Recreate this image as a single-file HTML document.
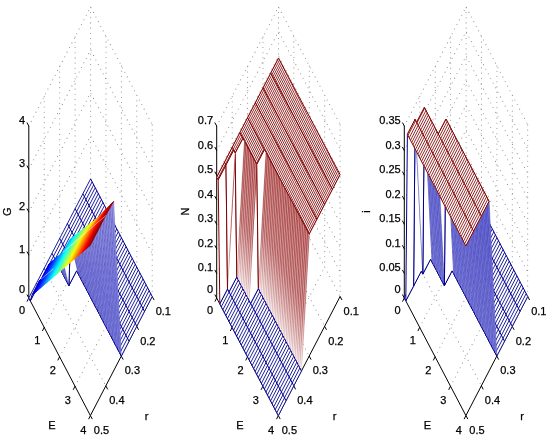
<!DOCTYPE html><html><head><meta charset="utf-8"><style>html,body{margin:0;padding:0;background:#fff;overflow:hidden}svg{display:block}text{font-family:"Liberation Sans",Arial,Helvetica,sans-serif;font-size:11px;fill:#000;stroke:#000;stroke-width:0.25px}</style></head><body>
<svg width="550" height="439" viewBox="0 0 550 439">
<defs>
<linearGradient id="g0" x1="0" y1="0" x2="0" y2="1"><stop offset="0" stop-color="#00008f" stop-opacity="0.3"/><stop offset="1" stop-color="#00008f" stop-opacity="0.25"/></linearGradient>
<linearGradient id="g1" x1="0" y1="0" x2="0" y2="1"><stop offset="0" stop-color="#800000" stop-opacity="0.5"/><stop offset="0.55" stop-color="#800000" stop-opacity="0.42"/><stop offset="1" stop-color="#800000" stop-opacity="0.1"/></linearGradient>
<linearGradient id="g2" x1="0" y1="0" x2="0" y2="1"><stop offset="0" stop-color="#00008f" stop-opacity="0.35"/><stop offset="1" stop-color="#00008f" stop-opacity="0.3"/></linearGradient>
<linearGradient id="f0" x1="0" y1="0" x2="0" y2="1"><stop offset="0" stop-color="#1a1ad0" stop-opacity="0.38"/><stop offset="0.5" stop-color="#1a1ad0" stop-opacity="0.5"/><stop offset="1" stop-color="#1a1ad0" stop-opacity="0.55"/></linearGradient>
<linearGradient id="f1" x1="0" y1="0" x2="0" y2="1"><stop offset="0" stop-color="#a00000" stop-opacity="0.38"/><stop offset="0.55" stop-color="#a00000" stop-opacity="0.3"/><stop offset="1" stop-color="#a00000" stop-opacity="0.03"/></linearGradient>
<linearGradient id="f2" x1="0" y1="0" x2="0" y2="1"><stop offset="0" stop-color="#1a1ad0" stop-opacity="0.6"/><stop offset="1" stop-color="#1a1ad0" stop-opacity="0.5"/></linearGradient>
</defs>
<rect width="550" height="439" fill="#fff"/>
<path d="M28.8 298L90.6 178.9L152.2 296.5M28.8 255L90.6 135.9L152.2 253.5M28.8 212L90.6 92.9L152.2 210.5M28.8 169L90.6 49.9L152.2 167.5M28.8 126L90.6 6.9L152.2 124.5M90.6 178.9L90.6 6.9M75.1 208.7L75.1 36.7M59.7 238.4L59.7 66.4M44.2 268.2L44.2 96.2M106 208.3L106 36.3M121.4 237.7L121.4 65.7M136.8 267.1L136.8 95.1M152.2 296.5L152.2 124.5M44.2 327.4L106 208.3M59.6 356.8L121.4 237.7M75 386.2L136.8 267.1M75.1 208.7L136.8 326.3M59.7 238.4L121.3 356.1M44.2 268.2L105.8 385.8" fill="none" stroke="#8e8e8e" stroke-width="1.1" stroke-linecap="round" stroke-dasharray="0 5.2"/>
<path d="M28.8 126L28.8 298M28.8 298L90.4 415.6L152.2 296.5M28.8 298L26.9 294.5M28.8 255L26.9 251.5M28.8 212L26.9 208.5M28.8 169L26.9 165.5M28.8 126L26.9 122.5M28.8 298L27 301.6M44.2 327.4L42.4 331M59.6 356.8L57.8 360.4M75 386.2L73.2 389.8M90.4 415.6L88.6 419.2M152.2 296.5L154.1 300M136.8 326.3L138.6 329.8M121.3 356.1L123.2 359.6M105.8 385.8L107.7 389.4M90.4 415.6L92.3 419.1" fill="none" stroke="#000" stroke-width="1"/>
<path d="M90.6 178.9L152.2 296.5L144.5 311.4L82.9 193.8ZM82.9 193.8L144.5 311.4L136.8 326.3L75.1 208.7ZM75.1 208.7L136.8 326.3L129 341.2L67.4 223.6ZM67.4 223.6L129 341.2L121.3 356.1L59.7 238.4ZM59.7 238.4L76.6 270.8L68.9 285.7L52 253.3ZM52 253.3L55.1 259.2L47.3 274.1L44.2 268.2ZM44.2 268.2L45.8 271.2L38.1 286.1L36.5 283.1ZM36.5 283.1L38.1 286.1L30.3 300.9L28.8 298Z" fill="#fff" stroke="#fff" stroke-width="0.4"/>
<path d="M90.6 178.9L28.8 298M92.1 181.8L30.3 300.9M93.7 184.8L47.3 274.1M95.2 187.7L56.6 262.2M96.8 190.7L58.1 265.1M98.3 193.6L59.7 268M99.8 196.5L61.2 271M101.4 199.5L62.8 273.9M102.9 202.4L64.3 276.9M104.5 205.4L65.8 279.8M106 208.3L67.4 282.7M107.5 211.2L68.9 285.7M109.1 214.2L78.2 273.7M110.6 217.1L79.7 276.7M112.2 220.1L81.3 279.6M113.7 223L82.8 282.6M115.2 225.9L84.3 285.5M116.8 228.9L85.9 288.4M118.3 231.8L87.4 291.4M119.9 234.8L89 294.3M121.4 237.7L90.5 297.2M122.9 240.6L92 300.2M124.5 243.6L93.6 303.1M126 246.5L95.1 306.1M127.6 249.5L96.7 309M129.1 252.4L98.2 311.9M130.6 255.3L99.7 314.9M132.2 258.3L101.3 317.8M133.7 261.2L102.8 320.8M135.3 264.2L104.4 323.7M136.8 267.1L105.9 326.7M138.3 270L107.4 329.6M139.9 273L109 332.5M141.4 275.9L110.5 335.5M143 278.9L112.1 338.4M144.5 281.8L113.6 341.4M146 284.7L115.1 344.3M147.6 287.7L116.7 347.2M149.1 290.6L118.2 350.2M150.7 293.6L119.8 353.1M152.2 296.5L121.3 356.1" fill="none" stroke="#00008f" stroke-width="0.88"/>
<path d="M90.6 178.9L152.2 296.5M82.9 193.8L144.5 311.4M75.1 208.7L136.8 326.3M67.4 223.6L129 341.2M59.7 238.4L121.3 356.1M52 253.3L68.9 285.7M44.2 268.2L47.3 274.1M36.5 283.1L38.1 286.1M28.8 298L30.3 300.9" fill="none" stroke="#00008f" stroke-width="1.0"/>
<path d="M55.1 259.2L56.6 262.2L48.9 264.3L47.3 274.1Z" fill="#fff"/>
<path d="M55.1 259.2L56.6 262.2" stroke="#00008f" stroke-width="1.0" fill="none"/>
<path d="M47.3 274.1L48.9 264.3" stroke="#00008f" stroke-width="1.0" fill="none"/>
<path d="M55.1 259.2L47.3 274.1" stroke="#00008f" stroke-width="1.0" fill="none"/>
<path d="M56.6 262.2L48.9 264.3" stroke="url(#g0)" stroke-width="1.0" fill="none"/>
<path d="M56.6 262.2L58.1 265.1L50.4 263L48.9 264.3Z" fill="#fff"/>
<path d="M56.6 262.2L58.1 265.1L50.4 263L48.9 264.3Z" fill="url(#f0)"/>
<path d="M56.6 262.2L58.1 265.1" stroke="#00008f" stroke-width="1.0" fill="none"/>
<path d="M48.9 264.3L50.4 263" stroke="#0000cf" stroke-width="1.0" fill="none"/>
<path d="M56.6 262.2L48.9 264.3" stroke="url(#g0)" stroke-width="1.0" fill="none"/>
<path d="M50.4 263L58.1 265.1" stroke="url(#g0)" stroke-width="1.0" fill="none"/>
<path d="M45.8 271.2L47.3 274.1L39.6 280.5L38.1 286.1Z" fill="#fff"/>
<path d="M45.8 271.2L47.3 274.1" stroke="#00008f" stroke-width="1.0" fill="none"/>
<path d="M38.1 286.1L39.6 280.5" stroke="#00008f" stroke-width="1.0" fill="none"/>
<path d="M45.8 271.2L38.1 286.1" stroke="#00008f" stroke-width="1.0" fill="none"/>
<path d="M47.3 274.1L39.6 280.5" stroke="url(#g0)" stroke-width="1.0" fill="none"/>
<path d="M58.1 265.1L59.7 268L51.9 261.6L50.4 263Z" fill="#fff"/>
<path d="M58.1 265.1L59.7 268L51.9 261.6L50.4 263Z" fill="url(#f0)"/>
<path d="M58.1 265.1L59.7 268" stroke="#00008f" stroke-width="1.0" fill="none"/>
<path d="M50.4 263L51.9 261.6" stroke="#0000ef" stroke-width="1.0" fill="none"/>
<path d="M50.4 263L58.1 265.1" stroke="url(#g0)" stroke-width="1.0" fill="none"/>
<path d="M51.9 261.6L59.7 268" stroke="url(#g0)" stroke-width="1.0" fill="none"/>
<path d="M59.7 268L61.2 271L53.5 260.3L51.9 261.6Z" fill="#fff"/>
<path d="M59.7 268L61.2 271L53.5 260.3L51.9 261.6Z" fill="url(#f0)"/>
<path d="M59.7 268L61.2 271" stroke="#00008f" stroke-width="1.0" fill="none"/>
<path d="M51.9 261.6L53.5 260.3" stroke="#0010ff" stroke-width="1.0" fill="none"/>
<path d="M51.9 261.6L59.7 268" stroke="url(#g0)" stroke-width="1.0" fill="none"/>
<path d="M53.5 260.3L61.2 271" stroke="url(#g0)" stroke-width="1.0" fill="none"/>
<path d="M47.3 274.1L48.9 264.3L41.1 279.2L39.6 280.5Z" fill="#fff"/>
<path d="M47.3 274.1L48.9 264.3" stroke="#00008f" stroke-width="1.0" fill="none"/>
<path d="M39.6 280.5L41.1 279.2" stroke="#0000bf" stroke-width="1.0" fill="none"/>
<path d="M47.3 274.1L39.6 280.5" stroke="url(#g0)" stroke-width="1.0" fill="none"/>
<path d="M48.9 264.3L41.1 279.2" stroke="#0000cf" stroke-width="1.0" fill="none"/>
<path d="M76.6 270.8L78.2 273.7L70.5 239.1L68.9 285.7Z" fill="#fff"/>
<path d="M76.6 270.8L78.2 273.7" stroke="#00008f" stroke-width="1.0" fill="none"/>
<path d="M68.9 285.7L70.5 239.1" stroke="#00008f" stroke-width="1.0" fill="none"/>
<path d="M76.6 270.8L68.9 285.7" stroke="#00008f" stroke-width="1.0" fill="none"/>
<path d="M70.5 239.1L78.2 273.7" stroke="url(#g0)" stroke-width="1.0" fill="none"/>
<path d="M61.2 271L62.8 273.9L55 259L53.5 260.3Z" fill="#fff"/>
<path d="M61.2 271L62.8 273.9L55 259L53.5 260.3Z" fill="url(#f0)"/>
<path d="M61.2 271L62.8 273.9" stroke="#00008f" stroke-width="1.0" fill="none"/>
<path d="M53.5 260.3L55 259" stroke="#0020ff" stroke-width="1.0" fill="none"/>
<path d="M53.5 260.3L61.2 271" stroke="url(#g0)" stroke-width="1.0" fill="none"/>
<path d="M55 259L62.8 273.9" stroke="url(#g0)" stroke-width="1.0" fill="none"/>
<path d="M62.8 273.9L64.3 276.9L56.6 257.7L55 259Z" fill="#fff"/>
<path d="M62.8 273.9L64.3 276.9L56.6 257.7L55 259Z" fill="url(#f0)"/>
<path d="M62.8 273.9L64.3 276.9" stroke="#00008f" stroke-width="1.0" fill="none"/>
<path d="M55 259L56.6 257.7" stroke="#0040ff" stroke-width="1.0" fill="none"/>
<path d="M55 259L62.8 273.9" stroke="url(#g0)" stroke-width="1.0" fill="none"/>
<path d="M56.6 257.7L64.3 276.9" stroke="url(#g0)" stroke-width="1.0" fill="none"/>
<path d="M38.1 286.1L39.6 280.5L31.9 295.4L30.3 300.9Z" fill="#fff"/>
<path d="M38.1 286.1L39.6 280.5" stroke="#00008f" stroke-width="1.0" fill="none"/>
<path d="M30.3 300.9L31.9 295.4" stroke="#00008f" stroke-width="1.0" fill="none"/>
<path d="M38.1 286.1L30.3 300.9" stroke="#00008f" stroke-width="1.0" fill="none"/>
<path d="M39.6 280.5L31.9 295.4" stroke="#0000bf" stroke-width="1.0" fill="none"/>
<path d="M48.9 264.3L50.4 263L42.7 277.8L41.1 279.2Z" fill="#0000cf" stroke="#0000cf" stroke-width="0.6"/>
<path d="M64.3 276.9L65.8 279.8L58.1 256.4L56.6 257.7Z" fill="#fff"/>
<path d="M64.3 276.9L65.8 279.8L58.1 256.4L56.6 257.7Z" fill="url(#f0)"/>
<path d="M64.3 276.9L65.8 279.8" stroke="#00008f" stroke-width="1.0" fill="none"/>
<path d="M56.6 257.7L58.1 256.4" stroke="#0050ff" stroke-width="1.0" fill="none"/>
<path d="M56.6 257.7L64.3 276.9" stroke="url(#g0)" stroke-width="1.0" fill="none"/>
<path d="M58.1 256.4L65.8 279.8" stroke="url(#g0)" stroke-width="1.0" fill="none"/>
<path d="M50.4 263L51.9 261.6L44.2 276.5L42.7 277.8Z" fill="#0000ef" stroke="#0000ef" stroke-width="0.6"/>
<path d="M78.2 273.7L79.7 276.7L72 237.9L70.5 239.1Z" fill="#fff"/>
<path d="M78.2 273.7L79.7 276.7L72 237.9L70.5 239.1Z" fill="url(#f0)"/>
<path d="M78.2 273.7L79.7 276.7" stroke="#00008f" stroke-width="1.0" fill="none"/>
<path d="M70.5 239.1L72 237.9" stroke="#00afff" stroke-width="1.0" fill="none"/>
<path d="M70.5 239.1L78.2 273.7" stroke="url(#g0)" stroke-width="1.0" fill="none"/>
<path d="M72 237.9L79.7 276.7" stroke="url(#g0)" stroke-width="1.0" fill="none"/>
<path d="M39.6 280.5L41.1 279.2L33.4 294L31.9 295.4Z" fill="#0000bf" stroke="#0000bf" stroke-width="0.6"/>
<path d="M65.8 279.8L67.4 282.7L59.6 255.1L58.1 256.4Z" fill="#fff"/>
<path d="M65.8 279.8L67.4 282.7L59.6 255.1L58.1 256.4Z" fill="url(#f0)"/>
<path d="M65.8 279.8L67.4 282.7" stroke="#00008f" stroke-width="1.0" fill="none"/>
<path d="M58.1 256.4L59.6 255.1" stroke="#0070ff" stroke-width="1.0" fill="none"/>
<path d="M58.1 256.4L65.8 279.8" stroke="url(#g0)" stroke-width="1.0" fill="none"/>
<path d="M59.6 255.1L67.4 282.7" stroke="url(#g0)" stroke-width="1.0" fill="none"/>
<path d="M79.7 276.7L81.3 279.6L73.5 236.7L72 237.9Z" fill="#fff"/>
<path d="M79.7 276.7L81.3 279.6L73.5 236.7L72 237.9Z" fill="url(#f0)"/>
<path d="M79.7 276.7L81.3 279.6" stroke="#00008f" stroke-width="1.0" fill="none"/>
<path d="M72 237.9L73.5 236.7" stroke="#00cfff" stroke-width="1.0" fill="none"/>
<path d="M72 237.9L79.7 276.7" stroke="url(#g0)" stroke-width="1.0" fill="none"/>
<path d="M73.5 236.7L81.3 279.6" stroke="url(#g0)" stroke-width="1.0" fill="none"/>
<path d="M67.4 282.7L68.9 285.7L61.2 253.7L59.6 255.1Z" fill="#fff"/>
<path d="M67.4 282.7L68.9 285.7L61.2 253.7L59.6 255.1Z" fill="url(#f0)"/>
<path d="M67.4 282.7L68.9 285.7" stroke="#00008f" stroke-width="1.0" fill="none"/>
<path d="M59.6 255.1L61.2 253.7" stroke="#008fff" stroke-width="1.0" fill="none"/>
<path d="M59.6 255.1L67.4 282.7" stroke="url(#g0)" stroke-width="1.0" fill="none"/>
<path d="M61.2 253.7L68.9 285.7" stroke="url(#g0)" stroke-width="1.0" fill="none"/>
<path d="M51.9 261.6L53.5 260.3L45.8 275.2L44.2 276.5Z" fill="#0010ff" stroke="#0010ff" stroke-width="0.6"/>
<path d="M41.1 279.2L42.7 277.8L35 292.7L33.4 294Z" fill="#0000cf" stroke="#0000cf" stroke-width="0.6"/>
<path d="M81.3 279.6L82.8 282.6L75.1 235.5L73.5 236.7Z" fill="#fff"/>
<path d="M81.3 279.6L82.8 282.6L75.1 235.5L73.5 236.7Z" fill="url(#f0)"/>
<path d="M81.3 279.6L82.8 282.6" stroke="#00008f" stroke-width="1.0" fill="none"/>
<path d="M73.5 236.7L75.1 235.5" stroke="#00dfff" stroke-width="1.0" fill="none"/>
<path d="M73.5 236.7L81.3 279.6" stroke="url(#g0)" stroke-width="1.0" fill="none"/>
<path d="M75.1 235.5L82.8 282.6" stroke="url(#g0)" stroke-width="1.0" fill="none"/>
<path d="M53.5 260.3L55 259L47.3 273.9L45.8 275.2Z" fill="#0020ff" stroke="#0020ff" stroke-width="0.6"/>
<path d="M42.7 277.8L44.2 276.5L36.5 291.4L35 292.7Z" fill="#0000ef" stroke="#0000ef" stroke-width="0.6"/>
<path d="M82.8 282.6L84.3 285.5L76.6 234.3L75.1 235.5Z" fill="#fff"/>
<path d="M82.8 282.6L84.3 285.5L76.6 234.3L75.1 235.5Z" fill="url(#f0)"/>
<path d="M82.8 282.6L84.3 285.5" stroke="#00008f" stroke-width="1.0" fill="none"/>
<path d="M75.1 235.5L76.6 234.3" stroke="#00ffff" stroke-width="1.0" fill="none"/>
<path d="M75.1 235.5L82.8 282.6" stroke="url(#g0)" stroke-width="1.0" fill="none"/>
<path d="M76.6 234.3L84.3 285.5" stroke="url(#g0)" stroke-width="1.0" fill="none"/>
<path d="M84.3 285.5L85.9 288.4L78.2 233.1L76.6 234.3Z" fill="#fff"/>
<path d="M84.3 285.5L85.9 288.4L78.2 233.1L76.6 234.3Z" fill="url(#f0)"/>
<path d="M84.3 285.5L85.9 288.4" stroke="#00008f" stroke-width="1.0" fill="none"/>
<path d="M76.6 234.3L78.2 233.1" stroke="#10ffef" stroke-width="1.0" fill="none"/>
<path d="M76.6 234.3L84.3 285.5" stroke="url(#g0)" stroke-width="1.0" fill="none"/>
<path d="M78.2 233.1L85.9 288.4" stroke="url(#g0)" stroke-width="1.0" fill="none"/>
<path d="M55 259L56.6 257.7L48.8 272.6L47.3 273.9Z" fill="#0040ff" stroke="#0040ff" stroke-width="0.6"/>
<path d="M44.2 276.5L45.8 275.2L38 290.1L36.5 291.4Z" fill="#0010ff" stroke="#0010ff" stroke-width="0.6"/>
<path d="M68.9 285.7L70.5 239.1L62.7 252.4L61.2 253.7Z" fill="#fff"/>
<path d="M68.9 285.7L70.5 239.1" stroke="#00008f" stroke-width="1.0" fill="none"/>
<path d="M61.2 253.7L62.7 252.4" stroke="#009fff" stroke-width="1.0" fill="none"/>
<path d="M61.2 253.7L68.9 285.7" stroke="url(#g0)" stroke-width="1.0" fill="none"/>
<path d="M70.5 239.1L62.7 252.4" stroke="#00afff" stroke-width="1.0" fill="none"/>
<path d="M85.9 288.4L87.4 291.4L79.7 232L78.2 233.1Z" fill="#fff"/>
<path d="M85.9 288.4L87.4 291.4L79.7 232L78.2 233.1Z" fill="url(#f0)"/>
<path d="M85.9 288.4L87.4 291.4" stroke="#00008f" stroke-width="1.0" fill="none"/>
<path d="M78.2 233.1L79.7 232" stroke="#30ffcf" stroke-width="1.0" fill="none"/>
<path d="M78.2 233.1L85.9 288.4" stroke="url(#g0)" stroke-width="1.0" fill="none"/>
<path d="M79.7 232L87.4 291.4" stroke="url(#g0)" stroke-width="1.0" fill="none"/>
<path d="M56.6 257.7L58.1 256.4L50.4 271.3L48.8 272.6Z" fill="#0050ff" stroke="#0050ff" stroke-width="0.6"/>
<path d="M45.8 275.2L47.3 273.9L39.6 288.8L38 290.1Z" fill="#0020ff" stroke="#0020ff" stroke-width="0.6"/>
<path d="M87.4 291.4L89 294.3L81.2 230.8L79.7 232Z" fill="#fff"/>
<path d="M87.4 291.4L89 294.3L81.2 230.8L79.7 232Z" fill="url(#f0)"/>
<path d="M87.4 291.4L89 294.3" stroke="#00008f" stroke-width="1.0" fill="none"/>
<path d="M79.7 232L81.2 230.8" stroke="#40ffbf" stroke-width="1.0" fill="none"/>
<path d="M79.7 232L87.4 291.4" stroke="url(#g0)" stroke-width="1.0" fill="none"/>
<path d="M81.2 230.8L89 294.3" stroke="url(#g0)" stroke-width="1.0" fill="none"/>
<path d="M89 294.3L90.5 297.2L82.8 229.6L81.2 230.8Z" fill="#fff"/>
<path d="M89 294.3L90.5 297.2L82.8 229.6L81.2 230.8Z" fill="url(#f0)"/>
<path d="M89 294.3L90.5 297.2" stroke="#00008f" stroke-width="1.0" fill="none"/>
<path d="M81.2 230.8L82.8 229.6" stroke="#60ff9f" stroke-width="1.0" fill="none"/>
<path d="M81.2 230.8L89 294.3" stroke="url(#g0)" stroke-width="1.0" fill="none"/>
<path d="M82.8 229.6L90.5 297.2" stroke="url(#g0)" stroke-width="1.0" fill="none"/>
<path d="M58.1 256.4L59.6 255.1L51.9 269.9L50.4 271.3Z" fill="#0070ff" stroke="#0070ff" stroke-width="0.6"/>
<path d="M47.3 273.9L48.8 272.6L41.1 287.5L39.6 288.8Z" fill="#0040ff" stroke="#0040ff" stroke-width="0.6"/>
<path d="M90.5 297.2L92 300.2L84.3 228.4L82.8 229.6Z" fill="#fff"/>
<path d="M90.5 297.2L92 300.2L84.3 228.4L82.8 229.6Z" fill="url(#f0)"/>
<path d="M90.5 297.2L92 300.2" stroke="#00008f" stroke-width="1.0" fill="none"/>
<path d="M82.8 229.6L84.3 228.4" stroke="#80ff80" stroke-width="1.0" fill="none"/>
<path d="M82.8 229.6L90.5 297.2" stroke="url(#g0)" stroke-width="1.0" fill="none"/>
<path d="M84.3 228.4L92 300.2" stroke="url(#g0)" stroke-width="1.0" fill="none"/>
<path d="M70.5 239.1L72 237.9L64.3 251.1L62.7 252.4Z" fill="#00afff" stroke="#00afff" stroke-width="0.6"/>
<path d="M59.6 255.1L61.2 253.7L53.5 268.6L51.9 269.9Z" fill="#008fff" stroke="#008fff" stroke-width="0.6"/>
<path d="M48.8 272.6L50.4 271.3L42.7 286.1L41.1 287.5Z" fill="#0050ff" stroke="#0050ff" stroke-width="0.6"/>
<path d="M92 300.2L93.6 303.1L85.9 227.2L84.3 228.4Z" fill="#fff"/>
<path d="M92 300.2L93.6 303.1L85.9 227.2L84.3 228.4Z" fill="url(#f0)"/>
<path d="M92 300.2L93.6 303.1" stroke="#00008f" stroke-width="1.0" fill="none"/>
<path d="M84.3 228.4L85.9 227.2" stroke="#8fff70" stroke-width="1.0" fill="none"/>
<path d="M84.3 228.4L92 300.2" stroke="url(#g0)" stroke-width="1.0" fill="none"/>
<path d="M85.9 227.2L93.6 303.1" stroke="url(#g0)" stroke-width="1.0" fill="none"/>
<path d="M72 237.9L73.5 236.7L65.8 249.8L64.3 251.1Z" fill="#00cfff" stroke="#00cfff" stroke-width="0.6"/>
<path d="M61.2 253.7L62.7 252.4L55 267.3L53.5 268.6Z" fill="#009fff" stroke="#009fff" stroke-width="0.6"/>
<path d="M93.6 303.1L95.1 306.1L87.4 226L85.9 227.2Z" fill="#fff"/>
<path d="M93.6 303.1L95.1 306.1L87.4 226L85.9 227.2Z" fill="url(#f0)"/>
<path d="M93.6 303.1L95.1 306.1" stroke="#00008f" stroke-width="1.0" fill="none"/>
<path d="M85.9 227.2L87.4 226" stroke="#afff50" stroke-width="1.0" fill="none"/>
<path d="M85.9 227.2L93.6 303.1" stroke="url(#g0)" stroke-width="1.0" fill="none"/>
<path d="M87.4 226L95.1 306.1" stroke="url(#g0)" stroke-width="1.0" fill="none"/>
<path d="M50.4 271.3L51.9 269.9L44.2 284.8L42.7 286.1Z" fill="#0070ff" stroke="#0070ff" stroke-width="0.6"/>
<path d="M73.5 236.7L75.1 235.5L67.3 248.5L65.8 249.8Z" fill="#00dfff" stroke="#00dfff" stroke-width="0.6"/>
<path d="M95.1 306.1L96.7 309L88.9 224.8L87.4 226Z" fill="#fff"/>
<path d="M95.1 306.1L96.7 309L88.9 224.8L87.4 226Z" fill="url(#f0)"/>
<path d="M95.1 306.1L96.7 309" stroke="#00008f" stroke-width="1.0" fill="none"/>
<path d="M87.4 226L88.9 224.8" stroke="#bfff40" stroke-width="1.0" fill="none"/>
<path d="M87.4 226L95.1 306.1" stroke="url(#g0)" stroke-width="1.0" fill="none"/>
<path d="M88.9 224.8L96.7 309" stroke="url(#g0)" stroke-width="1.0" fill="none"/>
<path d="M62.7 252.4L64.3 251.1L56.5 266L55 267.3Z" fill="#00bfff" stroke="#00bfff" stroke-width="0.6"/>
<path d="M51.9 269.9L53.5 268.6L45.7 283.5L44.2 284.8Z" fill="#008fff" stroke="#008fff" stroke-width="0.6"/>
<path d="M96.7 309L98.2 311.9L90.5 223.6L88.9 224.8Z" fill="#fff"/>
<path d="M96.7 309L98.2 311.9L90.5 223.6L88.9 224.8Z" fill="url(#f0)"/>
<path d="M96.7 309L98.2 311.9" stroke="#00008f" stroke-width="1.0" fill="none"/>
<path d="M88.9 224.8L90.5 223.6" stroke="#dfff20" stroke-width="1.0" fill="none"/>
<path d="M88.9 224.8L96.7 309" stroke="url(#g0)" stroke-width="1.0" fill="none"/>
<path d="M90.5 223.6L98.2 311.9" stroke="url(#g0)" stroke-width="1.0" fill="none"/>
<path d="M75.1 235.5L76.6 234.3L68.9 247.2L67.3 248.5Z" fill="#00ffff" stroke="#00ffff" stroke-width="0.6"/>
<path d="M64.3 251.1L65.8 249.8L58.1 264.7L56.5 266Z" fill="#00cfff" stroke="#00cfff" stroke-width="0.6"/>
<path d="M53.5 268.6L55 267.3L47.3 282.2L45.7 283.5Z" fill="#009fff" stroke="#009fff" stroke-width="0.6"/>
<path d="M98.2 311.9L99.7 314.9L92 222.4L90.5 223.6Z" fill="#fff"/>
<path d="M98.2 311.9L99.7 314.9L92 222.4L90.5 223.6Z" fill="url(#f0)"/>
<path d="M98.2 311.9L99.7 314.9" stroke="#00008f" stroke-width="1.0" fill="none"/>
<path d="M90.5 223.6L92 222.4" stroke="#efff10" stroke-width="1.0" fill="none"/>
<path d="M90.5 223.6L98.2 311.9" stroke="url(#g0)" stroke-width="1.0" fill="none"/>
<path d="M92 222.4L99.7 314.9" stroke="url(#g0)" stroke-width="1.0" fill="none"/>
<path d="M76.6 234.3L78.2 233.1L70.4 245.8L68.9 247.2Z" fill="#10ffef" stroke="#10ffef" stroke-width="0.6"/>
<path d="M99.7 314.9L101.3 317.8L93.6 221.3L92 222.4Z" fill="#fff"/>
<path d="M99.7 314.9L101.3 317.8L93.6 221.3L92 222.4Z" fill="url(#f0)"/>
<path d="M99.7 314.9L101.3 317.8" stroke="#00008f" stroke-width="1.0" fill="none"/>
<path d="M92 222.4L93.6 221.3" stroke="#ffef00" stroke-width="1.0" fill="none"/>
<path d="M92 222.4L99.7 314.9" stroke="url(#g0)" stroke-width="1.0" fill="none"/>
<path d="M93.6 221.3L101.3 317.8" stroke="url(#g0)" stroke-width="1.0" fill="none"/>
<path d="M65.8 249.8L67.3 248.5L59.6 263.4L58.1 264.7Z" fill="#00efff" stroke="#00efff" stroke-width="0.6"/>
<path d="M55 267.3L56.5 266L48.8 280.9L47.3 282.2Z" fill="#00bfff" stroke="#00bfff" stroke-width="0.6"/>
<path d="M101.3 317.8L102.8 320.8L95.1 220.1L93.6 221.3Z" fill="#fff"/>
<path d="M101.3 317.8L102.8 320.8L95.1 220.1L93.6 221.3Z" fill="url(#f0)"/>
<path d="M101.3 317.8L102.8 320.8" stroke="#00008f" stroke-width="1.0" fill="none"/>
<path d="M93.6 221.3L95.1 220.1" stroke="#ffdf00" stroke-width="1.0" fill="none"/>
<path d="M93.6 221.3L101.3 317.8" stroke="url(#g0)" stroke-width="1.0" fill="none"/>
<path d="M95.1 220.1L102.8 320.8" stroke="url(#g0)" stroke-width="1.0" fill="none"/>
<path d="M78.2 233.1L79.7 232L72 244.5L70.4 245.8Z" fill="#30ffcf" stroke="#30ffcf" stroke-width="0.6"/>
<path d="M67.3 248.5L68.9 247.2L61.2 262L59.6 263.4Z" fill="#00ffff" stroke="#00ffff" stroke-width="0.6"/>
<path d="M56.5 266L58.1 264.7L50.4 279.6L48.8 280.9Z" fill="#00cfff" stroke="#00cfff" stroke-width="0.6"/>
<path d="M102.8 320.8L104.4 323.7L96.6 218.9L95.1 220.1Z" fill="#fff"/>
<path d="M102.8 320.8L104.4 323.7L96.6 218.9L95.1 220.1Z" fill="url(#f0)"/>
<path d="M102.8 320.8L104.4 323.7" stroke="#00008f" stroke-width="1.0" fill="none"/>
<path d="M95.1 220.1L96.6 218.9" stroke="#ffbf00" stroke-width="1.0" fill="none"/>
<path d="M95.1 220.1L102.8 320.8" stroke="url(#g0)" stroke-width="1.0" fill="none"/>
<path d="M96.6 218.9L104.4 323.7" stroke="url(#g0)" stroke-width="1.0" fill="none"/>
<path d="M79.7 232L81.2 230.8L73.5 243.2L72 244.5Z" fill="#40ffbf" stroke="#40ffbf" stroke-width="0.6"/>
<path d="M68.9 247.2L70.4 245.8L62.7 260.7L61.2 262Z" fill="#20ffdf" stroke="#20ffdf" stroke-width="0.6"/>
<path d="M104.4 323.7L105.9 326.7L98.2 217.7L96.6 218.9Z" fill="#fff"/>
<path d="M104.4 323.7L105.9 326.7L98.2 217.7L96.6 218.9Z" fill="url(#f0)"/>
<path d="M104.4 323.7L105.9 326.7" stroke="#00008f" stroke-width="1.0" fill="none"/>
<path d="M96.6 218.9L98.2 217.7" stroke="#ffaf00" stroke-width="1.0" fill="none"/>
<path d="M96.6 218.9L104.4 323.7" stroke="url(#g0)" stroke-width="1.0" fill="none"/>
<path d="M98.2 217.7L105.9 326.7" stroke="url(#g0)" stroke-width="1.0" fill="none"/>
<path d="M58.1 264.7L59.6 263.4L51.9 278.2L50.4 279.6Z" fill="#00efff" stroke="#00efff" stroke-width="0.6"/>
<path d="M81.2 230.8L82.8 229.6L75 241.9L73.5 243.2Z" fill="#60ff9f" stroke="#60ff9f" stroke-width="0.6"/>
<path d="M105.9 326.7L107.4 329.6L99.7 216.1L98.2 217.7Z" fill="#fff"/>
<path d="M105.9 326.7L107.4 329.6L99.7 216.1L98.2 217.7Z" fill="url(#f0)"/>
<path d="M105.9 326.7L107.4 329.6" stroke="#00008f" stroke-width="1.0" fill="none"/>
<path d="M98.2 217.7L99.7 216.1" stroke="#ff8f00" stroke-width="1.0" fill="none"/>
<path d="M98.2 217.7L105.9 326.7" stroke="url(#g0)" stroke-width="1.0" fill="none"/>
<path d="M99.7 216.1L107.4 329.6" stroke="url(#g0)" stroke-width="1.0" fill="none"/>
<path d="M70.4 245.8L72 244.5L64.2 259.4L62.7 260.7Z" fill="#40ffbf" stroke="#40ffbf" stroke-width="0.6"/>
<path d="M59.6 263.4L61.2 262L53.4 276.9L51.9 278.2Z" fill="#00ffff" stroke="#00ffff" stroke-width="0.6"/>
<path d="M107.4 329.6L109 332.5L101.3 214.5L99.7 216.1Z" fill="#fff"/>
<path d="M107.4 329.6L109 332.5L101.3 214.5L99.7 216.1Z" fill="url(#f0)"/>
<path d="M107.4 329.6L109 332.5" stroke="#00008f" stroke-width="1.0" fill="none"/>
<path d="M99.7 216.1L101.3 214.5" stroke="#ff7000" stroke-width="1.0" fill="none"/>
<path d="M99.7 216.1L107.4 329.6" stroke="url(#g0)" stroke-width="1.0" fill="none"/>
<path d="M101.3 214.5L109 332.5" stroke="url(#g0)" stroke-width="1.0" fill="none"/>
<path d="M82.8 229.6L84.3 228.4L76.6 240.6L75 241.9Z" fill="#80ff80" stroke="#80ff80" stroke-width="0.6"/>
<path d="M72 244.5L73.5 243.2L65.8 258.1L64.2 259.4Z" fill="#50ffaf" stroke="#50ffaf" stroke-width="0.6"/>
<path d="M61.2 262L62.7 260.7L55 275.6L53.4 276.9Z" fill="#20ffdf" stroke="#20ffdf" stroke-width="0.6"/>
<path d="M109 332.5L110.5 335.5L102.8 212.8L101.3 214.5Z" fill="#fff"/>
<path d="M109 332.5L110.5 335.5L102.8 212.8L101.3 214.5Z" fill="url(#f0)"/>
<path d="M109 332.5L110.5 335.5" stroke="#00008f" stroke-width="1.0" fill="none"/>
<path d="M101.3 214.5L102.8 212.8" stroke="#ff6000" stroke-width="1.0" fill="none"/>
<path d="M101.3 214.5L109 332.5" stroke="url(#g0)" stroke-width="1.0" fill="none"/>
<path d="M102.8 212.8L110.5 335.5" stroke="url(#g0)" stroke-width="1.0" fill="none"/>
<path d="M84.3 228.4L85.9 227.2L78.1 239.3L76.6 240.6Z" fill="#8fff70" stroke="#8fff70" stroke-width="0.6"/>
<path d="M110.5 335.5L112.1 338.4L104.3 211.2L102.8 212.8Z" fill="#fff"/>
<path d="M110.5 335.5L112.1 338.4L104.3 211.2L102.8 212.8Z" fill="url(#f0)"/>
<path d="M110.5 335.5L112.1 338.4" stroke="#00008f" stroke-width="1.0" fill="none"/>
<path d="M102.8 212.8L104.3 211.2" stroke="#ff4000" stroke-width="1.0" fill="none"/>
<path d="M102.8 212.8L110.5 335.5" stroke="url(#g0)" stroke-width="1.0" fill="none"/>
<path d="M104.3 211.2L112.1 338.4" stroke="url(#g0)" stroke-width="1.0" fill="none"/>
<path d="M73.5 243.2L75 241.9L67.3 256.8L65.8 258.1Z" fill="#70ff8f" stroke="#70ff8f" stroke-width="0.6"/>
<path d="M62.7 260.7L64.2 259.4L56.5 274.3L55 275.6Z" fill="#40ffbf" stroke="#40ffbf" stroke-width="0.6"/>
<path d="M112.1 338.4L113.6 341.4L105.9 209.6L104.3 211.2Z" fill="#fff"/>
<path d="M112.1 338.4L113.6 341.4L105.9 209.6L104.3 211.2Z" fill="url(#f0)"/>
<path d="M112.1 338.4L113.6 341.4" stroke="#00008f" stroke-width="1.0" fill="none"/>
<path d="M104.3 211.2L105.9 209.6" stroke="#ff2000" stroke-width="1.0" fill="none"/>
<path d="M104.3 211.2L112.1 338.4" stroke="url(#g0)" stroke-width="1.0" fill="none"/>
<path d="M105.9 209.6L113.6 341.4" stroke="url(#g0)" stroke-width="1.0" fill="none"/>
<path d="M85.9 227.2L87.4 226L79.7 237.9L78.1 239.3Z" fill="#afff50" stroke="#afff50" stroke-width="0.6"/>
<path d="M75 241.9L76.6 240.6L68.9 255.5L67.3 256.8Z" fill="#8fff70" stroke="#8fff70" stroke-width="0.6"/>
<path d="M64.2 259.4L65.8 258.1L58.1 273L56.5 274.3Z" fill="#50ffaf" stroke="#50ffaf" stroke-width="0.6"/>
<path d="M113.6 341.4L115.1 344.3L107.4 208L105.9 209.6Z" fill="#fff"/>
<path d="M113.6 341.4L115.1 344.3L107.4 208L105.9 209.6Z" fill="url(#f0)"/>
<path d="M113.6 341.4L115.1 344.3" stroke="#00008f" stroke-width="1.0" fill="none"/>
<path d="M105.9 209.6L107.4 208" stroke="#ff0000" stroke-width="1.0" fill="none"/>
<path d="M105.9 209.6L113.6 341.4" stroke="url(#g0)" stroke-width="1.0" fill="none"/>
<path d="M107.4 208L115.1 344.3" stroke="url(#g0)" stroke-width="1.0" fill="none"/>
<path d="M87.4 226L88.9 224.8L81.2 236.6L79.7 237.9Z" fill="#bfff40" stroke="#bfff40" stroke-width="0.6"/>
<path d="M76.6 240.6L78.1 239.3L70.4 254.1L68.9 255.5Z" fill="#9fff60" stroke="#9fff60" stroke-width="0.6"/>
<path d="M115.1 344.3L116.7 347.2L109 206.4L107.4 208Z" fill="#fff"/>
<path d="M115.1 344.3L116.7 347.2L109 206.4L107.4 208Z" fill="url(#f0)"/>
<path d="M115.1 344.3L116.7 347.2" stroke="#00008f" stroke-width="1.0" fill="none"/>
<path d="M107.4 208L109 206.4" stroke="#ef0000" stroke-width="1.0" fill="none"/>
<path d="M107.4 208L115.1 344.3" stroke="url(#g0)" stroke-width="1.0" fill="none"/>
<path d="M109 206.4L116.7 347.2" stroke="url(#g0)" stroke-width="1.0" fill="none"/>
<path d="M65.8 258.1L67.3 256.8L59.6 271.7L58.1 273Z" fill="#70ff8f" stroke="#70ff8f" stroke-width="0.6"/>
<path d="M88.9 224.8L90.5 223.6L82.8 235.3L81.2 236.6Z" fill="#dfff20" stroke="#dfff20" stroke-width="0.6"/>
<path d="M116.7 347.2L118.2 350.2L110.5 204.8L109 206.4Z" fill="#fff"/>
<path d="M116.7 347.2L118.2 350.2L110.5 204.8L109 206.4Z" fill="url(#f0)"/>
<path d="M116.7 347.2L118.2 350.2" stroke="#00008f" stroke-width="1.0" fill="none"/>
<path d="M109 206.4L110.5 204.8" stroke="#cf0000" stroke-width="1.0" fill="none"/>
<path d="M109 206.4L116.7 347.2" stroke="url(#g0)" stroke-width="1.0" fill="none"/>
<path d="M110.5 204.8L118.2 350.2" stroke="url(#g0)" stroke-width="1.0" fill="none"/>
<path d="M78.1 239.3L79.7 237.9L71.9 252.8L70.4 254.1Z" fill="#bfff40" stroke="#bfff40" stroke-width="0.6"/>
<path d="M67.3 256.8L68.9 255.5L61.1 270.3L59.6 271.7Z" fill="#8fff70" stroke="#8fff70" stroke-width="0.6"/>
<path d="M118.2 350.2L119.8 353.1L112 203.1L110.5 204.8Z" fill="#fff"/>
<path d="M118.2 350.2L119.8 353.1L112 203.1L110.5 204.8Z" fill="url(#f0)"/>
<path d="M118.2 350.2L119.8 353.1" stroke="#00008f" stroke-width="1.0" fill="none"/>
<path d="M110.5 204.8L112 203.1" stroke="#af0000" stroke-width="1.0" fill="none"/>
<path d="M110.5 204.8L118.2 350.2" stroke="url(#g0)" stroke-width="1.0" fill="none"/>
<path d="M112 203.1L119.8 353.1" stroke="url(#g0)" stroke-width="1.0" fill="none"/>
<path d="M90.5 223.6L92 222.4L84.3 234L82.8 235.3Z" fill="#efff10" stroke="#efff10" stroke-width="0.6"/>
<path d="M79.7 237.9L81.2 236.6L73.5 251.5L71.9 252.8Z" fill="#cfff30" stroke="#cfff30" stroke-width="0.6"/>
<path d="M68.9 255.5L70.4 254.1L62.7 269L61.1 270.3Z" fill="#9fff60" stroke="#9fff60" stroke-width="0.6"/>
<path d="M119.8 353.1L121.3 356.1L113.6 201.5L112 203.1Z" fill="#fff"/>
<path d="M119.8 353.1L121.3 356.1L113.6 201.5L112 203.1Z" fill="url(#f0)"/>
<path d="M119.8 353.1L121.3 356.1" stroke="#00008f" stroke-width="1.0" fill="none"/>
<path d="M112 203.1L113.6 201.5" stroke="#9f0000" stroke-width="1.0" fill="none"/>
<path d="M112 203.1L119.8 353.1" stroke="url(#g0)" stroke-width="1.0" fill="none"/>
<path d="M113.6 201.5L121.3 356.1" stroke="url(#g0)" stroke-width="1.0" fill="none"/>
<path d="M92 222.4L93.6 221.3L85.8 232.7L84.3 234Z" fill="#ffef00" stroke="#ffef00" stroke-width="0.6"/>
<path d="M81.2 236.6L82.8 235.3L75 250.2L73.5 251.5Z" fill="#efff10" stroke="#efff10" stroke-width="0.6"/>
<path d="M70.4 254.1L71.9 252.8L64.2 267.7L62.7 269Z" fill="#bfff40" stroke="#bfff40" stroke-width="0.6"/>
<path d="M93.6 221.3L95.1 220.1L87.4 231.3L85.8 232.7Z" fill="#ffdf00" stroke="#ffdf00" stroke-width="0.6"/>
<path d="M82.8 235.3L84.3 234L76.6 248.9L75 250.2Z" fill="#ffef00" stroke="#ffef00" stroke-width="0.6"/>
<path d="M71.9 252.8L73.5 251.5L65.8 266.4L64.2 267.7Z" fill="#cfff30" stroke="#cfff30" stroke-width="0.6"/>
<path d="M95.1 220.1L96.6 218.9L88.9 230L87.4 231.3Z" fill="#ffbf00" stroke="#ffbf00" stroke-width="0.6"/>
<path d="M84.3 234L85.8 232.7L78.1 247.6L76.6 248.9Z" fill="#ffdf00" stroke="#ffdf00" stroke-width="0.6"/>
<path d="M73.5 251.5L75 250.2L67.3 265.1L65.8 266.4Z" fill="#efff10" stroke="#efff10" stroke-width="0.6"/>
<path d="M96.6 218.9L98.2 217.7L90.4 228.7L88.9 230Z" fill="#ffaf00" stroke="#ffaf00" stroke-width="0.6"/>
<path d="M85.8 232.7L87.4 231.3L79.6 246.2L78.1 247.6Z" fill="#ffbf00" stroke="#ffbf00" stroke-width="0.6"/>
<path d="M75 250.2L76.6 248.9L68.8 263.8L67.3 265.1Z" fill="#ffef00" stroke="#ffef00" stroke-width="0.6"/>
<path d="M98.2 217.7L99.7 216.1L92 227.4L90.4 228.7Z" fill="#ff8f00" stroke="#ff8f00" stroke-width="0.6"/>
<path d="M87.4 231.3L88.9 230L81.2 244.9L79.6 246.2Z" fill="#ffaf00" stroke="#ffaf00" stroke-width="0.6"/>
<path d="M76.6 248.9L78.1 247.6L70.4 262.4L68.8 263.8Z" fill="#ffdf00" stroke="#ffdf00" stroke-width="0.6"/>
<path d="M99.7 216.1L101.3 214.5L93.5 226.1L92 227.4Z" fill="#ff7000" stroke="#ff7000" stroke-width="0.6"/>
<path d="M88.9 230L90.4 228.7L82.7 243.6L81.2 244.9Z" fill="#ff8f00" stroke="#ff8f00" stroke-width="0.6"/>
<path d="M78.1 247.6L79.6 246.2L71.9 261.1L70.4 262.4Z" fill="#ffbf00" stroke="#ffbf00" stroke-width="0.6"/>
<path d="M101.3 214.5L102.8 212.8L95.1 224.8L93.5 226.1Z" fill="#ff6000" stroke="#ff6000" stroke-width="0.6"/>
<path d="M90.4 228.7L92 227.4L84.3 242.3L82.7 243.6Z" fill="#ff8000" stroke="#ff8000" stroke-width="0.6"/>
<path d="M79.6 246.2L81.2 244.9L73.5 259.8L71.9 261.1Z" fill="#ffaf00" stroke="#ffaf00" stroke-width="0.6"/>
<path d="M102.8 212.8L104.3 211.2L96.6 223.4L95.1 224.8Z" fill="#ff4000" stroke="#ff4000" stroke-width="0.6"/>
<path d="M92 227.4L93.5 226.1L85.8 241L84.3 242.3Z" fill="#ff6000" stroke="#ff6000" stroke-width="0.6"/>
<path d="M81.2 244.9L82.7 243.6L75 258.5L73.5 259.8Z" fill="#ff8f00" stroke="#ff8f00" stroke-width="0.6"/>
<path d="M104.3 211.2L105.9 209.6L98.1 222.1L96.6 223.4Z" fill="#ff2000" stroke="#ff2000" stroke-width="0.6"/>
<path d="M93.5 226.1L95.1 224.8L87.3 239.7L85.8 241Z" fill="#ff4000" stroke="#ff4000" stroke-width="0.6"/>
<path d="M82.7 243.6L84.3 242.3L76.5 257.2L75 258.5Z" fill="#ff8000" stroke="#ff8000" stroke-width="0.6"/>
<path d="M105.9 209.6L107.4 208L99.7 220.8L98.1 222.1Z" fill="#ff0000" stroke="#ff0000" stroke-width="0.6"/>
<path d="M95.1 224.8L96.6 223.4L88.9 238.3L87.3 239.7Z" fill="#ff3000" stroke="#ff3000" stroke-width="0.6"/>
<path d="M84.3 242.3L85.8 241L78.1 255.9L76.5 257.2Z" fill="#ff6000" stroke="#ff6000" stroke-width="0.6"/>
<path d="M107.4 208L109 206.4L101.2 219.5L99.7 220.8Z" fill="#ef0000" stroke="#ef0000" stroke-width="0.6"/>
<path d="M96.6 223.4L98.1 222.1L90.4 237L88.9 238.3Z" fill="#ff1000" stroke="#ff1000" stroke-width="0.6"/>
<path d="M85.8 241L87.3 239.7L79.6 254.5L78.1 255.9Z" fill="#ff4000" stroke="#ff4000" stroke-width="0.6"/>
<path d="M109 206.4L110.5 204.8L102.8 218.2L101.2 219.5Z" fill="#cf0000" stroke="#cf0000" stroke-width="0.6"/>
<path d="M98.1 222.1L99.7 220.8L92 235.7L90.4 237Z" fill="#ef0000" stroke="#ef0000" stroke-width="0.6"/>
<path d="M87.3 239.7L88.9 238.3L81.2 253.2L79.6 254.5Z" fill="#ff3000" stroke="#ff3000" stroke-width="0.6"/>
<path d="M110.5 204.8L112 203.1L104.3 216.9L102.8 218.2Z" fill="#af0000" stroke="#af0000" stroke-width="0.6"/>
<path d="M99.7 220.8L101.2 219.5L93.5 234.4L92 235.7Z" fill="#df0000" stroke="#df0000" stroke-width="0.6"/>
<path d="M88.9 238.3L90.4 237L82.7 251.9L81.2 253.2Z" fill="#ff1000" stroke="#ff1000" stroke-width="0.6"/>
<path d="M112 203.1L113.6 201.5L105.8 215.5L104.3 216.9Z" fill="#9f0000" stroke="#9f0000" stroke-width="0.6"/>
<path d="M101.2 219.5L102.8 218.2L95 233.1L93.5 234.4Z" fill="#bf0000" stroke="#bf0000" stroke-width="0.6"/>
<path d="M90.4 237L92 235.7L84.2 250.6L82.7 251.9Z" fill="#ef0000" stroke="#ef0000" stroke-width="0.6"/>
<path d="M102.8 218.2L104.3 216.9L96.6 231.7L95 233.1Z" fill="#af0000" stroke="#af0000" stroke-width="0.6"/>
<path d="M92 235.7L93.5 234.4L85.8 249.3L84.2 250.6Z" fill="#df0000" stroke="#df0000" stroke-width="0.6"/>
<path d="M104.3 216.9L105.8 215.5L98.1 230.4L96.6 231.7Z" fill="#8f0000" stroke="#8f0000" stroke-width="0.6"/>
<path d="M93.5 234.4L95 233.1L87.3 248L85.8 249.3Z" fill="#bf0000" stroke="#bf0000" stroke-width="0.6"/>
<path d="M95 233.1L96.6 231.7L88.9 246.6L87.3 248Z" fill="#af0000" stroke="#af0000" stroke-width="0.6"/>
<path d="M96.6 231.7L98.1 230.4L90.4 245.3L88.9 246.6Z" fill="#8f0000" stroke="#8f0000" stroke-width="0.6"/>
<path d="M31.9 295.4M41.1 279.2L42.7 277.8L44.2 276.5L45.8 275.2L47.3 273.9L48.8 272.6L50.4 271.3L51.9 269.9L53.5 268.6M62.7 252.4L64.3 251.1L65.8 249.8L67.3 248.5L68.9 247.2L70.4 245.8L72 244.5L73.5 243.2L75 241.9L76.6 240.6L78.1 239.3L79.7 237.9L81.2 236.6L82.8 235.3L84.3 234L85.8 232.7L87.4 231.3L88.9 230L90.4 228.7L92 227.4L93.5 226.1L95.1 224.8L96.6 223.4L98.1 222.1L99.7 220.8L101.2 219.5L102.8 218.2L104.3 216.9L105.8 215.5" fill="none" stroke="#fff" stroke-opacity="0.6" stroke-width="0.9"/>
<text x="25.2" y="293.4" text-anchor="end">0</text>
<text x="25.2" y="252.9" text-anchor="end">1</text>
<text x="25.2" y="209.9" text-anchor="end">2</text>
<text x="25.2" y="166.9" text-anchor="end">3</text>
<text x="25.2" y="123.9" text-anchor="end">4</text>
<text x="22.1" y="313.9" text-anchor="middle">0</text>
<text x="37.4" y="343.9" text-anchor="middle">1</text>
<text x="52.7" y="373.8" text-anchor="middle">2</text>
<text x="67.9" y="403.8" text-anchor="middle">3</text>
<text x="83.2" y="433.7" text-anchor="middle">4</text>
<text x="163.3" y="314.7" text-anchor="middle">0.1</text>
<text x="147.8" y="344.5" text-anchor="middle">0.2</text>
<text x="132.4" y="374.3" text-anchor="middle">0.3</text>
<text x="116.9" y="404.1" text-anchor="middle">0.4</text>
<text x="101.5" y="433.8" text-anchor="middle">0.5</text>
<text x="52" y="429" text-anchor="middle">E</text>
<text x="146.6" y="419.9" text-anchor="middle">r</text>
<text x="11" y="211.6" text-anchor="middle" transform="rotate(-90 11 211.6)">G</text>
<path d="M216.7 298L278.5 178.9L340.1 296.5M216.7 273.4L278.5 154.3L340.1 271.9M216.7 248.9L278.5 129.8L340.1 247.4M216.7 224.3L278.5 105.2L340.1 222.8M216.7 199.7L278.5 80.6L340.1 198.2M216.7 175.1L278.5 56L340.1 173.6M216.7 150.6L278.5 31.5L340.1 149.1M216.7 126L278.5 6.9L340.1 124.5M278.5 178.9L278.5 6.9M263 208.7L263 36.7M247.6 238.4L247.6 66.4M232.2 268.2L232.2 96.2M293.9 208.3L293.9 36.3M309.3 237.7L309.3 65.7M324.7 267.1L324.7 95.1M340.1 296.5L340.1 124.5M232.1 327.4L293.9 208.3M247.5 356.8L309.3 237.7M262.9 386.2L324.7 267.1M263 208.7L324.6 326.3M247.6 238.4L309.2 356.1M232.2 268.2L293.8 385.8" fill="none" stroke="#8e8e8e" stroke-width="1.1" stroke-linecap="round" stroke-dasharray="0 5.2"/>
<path d="M216.7 126L216.7 298M216.7 298L278.3 415.6L340.1 296.5M216.7 298L214.8 294.5M216.7 273.4L214.8 269.9M216.7 248.9L214.8 245.3M216.7 224.3L214.8 220.7M216.7 199.7L214.8 196.2M216.7 175.1L214.8 171.6M216.7 150.6L214.8 147M216.7 126L214.8 122.5M216.7 298L214.9 301.6M232.1 327.4L230.3 331M247.5 356.8L245.7 360.4M262.9 386.2L261.1 389.8M278.3 415.6L276.5 419.2M340.1 296.5L342 300M324.6 326.3L326.5 329.8M309.2 356.1L311.1 359.6M293.8 385.8L295.6 389.4M278.3 415.6L280.2 419.1" fill="none" stroke="#000" stroke-width="1"/>
<path d="M258.4 288.6L301.5 370.9L293.8 385.8L250.6 303.5ZM236.8 277L293.8 385.8L286 400.7L229 291.9ZM227.5 289L286 400.7L278.3 415.6L219.8 303.9Z" fill="#fff" stroke="#fff" stroke-width="0.4"/>
<path d="M227.5 289L219.8 303.9M236.8 277L221.3 306.8M238.3 280L222.9 309.8M239.8 282.9L224.4 312.7M241.4 285.9L225.9 315.6M242.9 288.8L227.5 318.6M244.5 291.7L229 321.5M246 294.7L230.6 324.5M247.6 297.6L232.1 327.4M249.1 300.6L233.6 330.3M258.4 288.6L235.2 333.3M259.9 291.6L236.7 336.2M261.4 294.5L238.3 339.2M263 297.4L239.8 342.1M264.5 300.4L241.3 345M266.1 303.3L242.9 348M267.6 306.3L244.4 350.9M269.1 309.2L246 353.9M270.7 312.1L247.5 356.8M272.2 315.1L249 359.7M273.8 318L250.6 362.7M275.3 321L252.1 365.6M276.8 323.9L253.7 368.6M278.4 326.8L255.2 371.5M279.9 329.8L256.7 374.4M281.5 332.7L258.3 377.4M283 335.7L259.8 380.3M284.5 338.6L261.4 383.3M286.1 341.5L262.9 386.2M287.6 344.5L264.4 389.1M289.2 347.4L266 392.1M290.7 350.4L267.5 395M292.2 353.3L269.1 398M293.8 356.2L270.6 400.9M295.3 359.2L272.1 403.8M296.9 362.1L273.7 406.8M298.4 365.1L275.2 409.7M299.9 368L276.8 412.7M301.5 370.9L278.3 415.6" fill="none" stroke="#00008f" stroke-width="0.88"/>
<path d="M258.4 288.6L301.5 370.9M236.8 277L293.8 385.8M227.5 289L286 400.7M219.8 303.9L278.3 415.6" fill="none" stroke="#00008f" stroke-width="1.0"/>
<path d="M278.5 58L340.1 174.6L332.4 189.5L270.8 72.9ZM270.8 72.9L332.4 189.5L324.6 204.4L263 87.8ZM263 87.8L324.6 204.4L316.9 219.3L255.3 102.7ZM255.3 102.7L316.9 219.3L309.2 234.2L247.6 117.6ZM247.6 117.6L264.5 149.6L256.8 164.5L239.9 132.4ZM239.9 132.4L243 138.3L235.2 153.2L232.2 147.3ZM232.2 147.3L233.7 150.2L226 165.1L224.4 162.2ZM224.4 162.2L226 165.1L218.2 180L216.7 177.1Z" fill="#fff" stroke="#fff" stroke-width="0.4"/>
<clipPath id="cp1"><path d="M278.5 58L340.1 174.6L332.4 189.5L270.8 72.9ZM270.8 72.9L332.4 189.5L324.6 204.4L263 87.8ZM263 87.8L324.6 204.4L316.9 219.3L255.3 102.7ZM255.3 102.7L316.9 219.3L309.2 234.2L247.6 117.6ZM247.6 117.6L264.5 149.6L256.8 164.5L239.9 132.4ZM239.9 132.4L243 138.3L235.2 153.2L232.2 147.3ZM232.2 147.3L233.7 150.2L226 165.1L224.4 162.2ZM224.4 162.2L226 165.1L218.2 180L216.7 177.1Z"/></clipPath>
<path d="M278.5 58L216.7 177.1M279.5 60L217.7 179.1M280.6 61.9L218.8 181M281.6 63.8L219.8 182.9M282.6 65.8L220.8 184.9M283.6 67.7L221.8 186.8M284.7 69.7L222.9 188.8M285.7 71.6L223.9 190.7M286.7 73.6L224.9 192.7M287.7 75.5L225.9 194.6M288.8 77.4L227 196.5M289.8 79.4L228 198.5M290.8 81.3L229 200.4M291.8 83.3L230 202.4M292.9 85.2L231.1 204.3M293.9 87.2L232.1 206.3M294.9 89.1L233.1 208.2M296 91.1L234.2 210.2M297 93L235.2 212.1M298 94.9L236.2 214M299 96.9L237.2 216M300.1 98.8L238.3 217.9M301.1 100.8L239.3 219.9M302.1 102.7L240.3 221.8M303.1 104.7L241.3 223.8M304.2 106.6L242.4 225.7M305.2 108.5L243.4 227.6M306.2 110.5L244.4 229.6M307.2 112.4L245.4 231.5M308.3 114.4L246.5 233.5M309.3 116.3L247.5 235.4M310.3 118.3L248.5 237.4M311.4 120.2L249.6 239.3M312.4 122.1L250.6 241.2M313.4 124.1L251.6 243.2M314.4 126L252.6 245.1M315.5 128L253.7 247.1M316.5 129.9L254.7 249M317.5 131.9L255.7 251M318.5 133.8L256.7 252.9M319.6 135.8L257.8 254.9M320.6 137.7L258.8 256.8M321.6 139.6L259.8 258.7M322.6 141.6L260.8 260.7M323.7 143.5L261.9 262.6M324.7 145.5L262.9 264.6M325.7 147.4L263.9 266.5M326.8 149.4L265 268.5M327.8 151.3L266 270.4M328.8 153.2L267 272.3M329.8 155.2L268 274.3M330.9 157.1L269.1 276.2M331.9 159.1L270.1 278.2M332.9 161L271.1 280.1M333.9 163L272.1 282.1M335 164.9L273.2 284M336 166.9L274.2 286M337 168.8L275.2 287.9M338 170.7L276.2 289.8M339.1 172.7L277.3 291.8M340.1 174.6L278.3 293.7" fill="none" stroke="#800000" stroke-width="0.85" clip-path="url(#cp1)"/>
<path d="M278.5 58L216.7 177.1M233.7 150.2L218.2 180M243 138.3L235.2 153.2M264.5 149.6L256.8 164.5M340.1 174.6L309.2 234.2" fill="none" stroke="#800000" stroke-width="1.0"/>
<path d="M278.5 58L340.1 174.6M270.8 72.9L332.4 189.5M263 87.8L324.6 204.4M255.3 102.7L316.9 219.3M247.6 117.6L309.2 234.2M239.9 132.4L256.8 164.5M232.2 147.3L235.2 153.2M224.4 162.2L226 165.1M216.7 177.1L218.2 180" fill="none" stroke="#800000" stroke-width="1.0"/>
<path d="M235.2 153.2L236.8 277L229 291.9L227.5 289Z" fill="#fff"/>
<path d="M235.2 153.2L236.8 277" stroke="#800000" stroke-width="1.0" fill="none"/>
<path d="M227.5 289L229 291.9" stroke="#00008f" stroke-width="1.0" fill="none"/>
<path d="M235.2 153.2L227.5 289" stroke="url(#g1)" stroke-width="1.0" fill="none"/>
<path d="M236.8 277L229 291.9" stroke="#00008f" stroke-width="1.0" fill="none"/>
<path d="M256.8 164.5L258.4 288.6L250.6 303.5L249.1 300.6Z" fill="#fff"/>
<path d="M256.8 164.5L258.4 288.6" stroke="#800000" stroke-width="1.0" fill="none"/>
<path d="M249.1 300.6L250.6 303.5" stroke="#00008f" stroke-width="1.0" fill="none"/>
<path d="M256.8 164.5L249.1 300.6" stroke="url(#g1)" stroke-width="1.0" fill="none"/>
<path d="M258.4 288.6L250.6 303.5" stroke="#00008f" stroke-width="1.0" fill="none"/>
<path d="M244.5 141.2L246 144.1L238.3 280L236.8 277Z" fill="#fff"/>
<path d="M244.5 141.2L246 144.1L238.3 280L236.8 277Z" fill="url(#f1)"/>
<path d="M244.5 141.2L246 144.1" stroke="#800000" stroke-width="1.0" fill="none"/>
<path d="M236.8 277L238.3 280" stroke="#00008f" stroke-width="1.0" fill="none"/>
<path d="M244.5 141.2L236.8 277" stroke="url(#g1)" stroke-width="1.0" fill="none"/>
<path d="M246 144.1L238.3 280" stroke="url(#g1)" stroke-width="1.0" fill="none"/>
<path d="M246 144.1L247.6 147L239.8 282.9L238.3 280Z" fill="#fff"/>
<path d="M246 144.1L247.6 147L239.8 282.9L238.3 280Z" fill="url(#f1)"/>
<path d="M246 144.1L247.6 147" stroke="#800000" stroke-width="1.0" fill="none"/>
<path d="M238.3 280L239.8 282.9" stroke="#00008f" stroke-width="1.0" fill="none"/>
<path d="M246 144.1L238.3 280" stroke="url(#g1)" stroke-width="1.0" fill="none"/>
<path d="M247.6 147L239.8 282.9" stroke="url(#g1)" stroke-width="1.0" fill="none"/>
<path d="M247.6 147L249.1 149.9L241.4 285.9L239.8 282.9Z" fill="#fff"/>
<path d="M247.6 147L249.1 149.9L241.4 285.9L239.8 282.9Z" fill="url(#f1)"/>
<path d="M247.6 147L249.1 149.9" stroke="#800000" stroke-width="1.0" fill="none"/>
<path d="M239.8 282.9L241.4 285.9" stroke="#00008f" stroke-width="1.0" fill="none"/>
<path d="M247.6 147L239.8 282.9" stroke="url(#g1)" stroke-width="1.0" fill="none"/>
<path d="M249.1 149.9L241.4 285.9" stroke="url(#g1)" stroke-width="1.0" fill="none"/>
<path d="M249.1 149.9L250.7 152.9L242.9 288.8L241.4 285.9Z" fill="#fff"/>
<path d="M249.1 149.9L250.7 152.9L242.9 288.8L241.4 285.9Z" fill="url(#f1)"/>
<path d="M249.1 149.9L250.7 152.9" stroke="#800000" stroke-width="1.0" fill="none"/>
<path d="M241.4 285.9L242.9 288.8" stroke="#00008f" stroke-width="1.0" fill="none"/>
<path d="M249.1 149.9L241.4 285.9" stroke="url(#g1)" stroke-width="1.0" fill="none"/>
<path d="M250.7 152.9L242.9 288.8" stroke="url(#g1)" stroke-width="1.0" fill="none"/>
<path d="M250.7 152.9L252.2 155.8L244.5 291.7L242.9 288.8Z" fill="#fff"/>
<path d="M250.7 152.9L252.2 155.8L244.5 291.7L242.9 288.8Z" fill="url(#f1)"/>
<path d="M250.7 152.9L252.2 155.8" stroke="#800000" stroke-width="1.0" fill="none"/>
<path d="M242.9 288.8L244.5 291.7" stroke="#00008f" stroke-width="1.0" fill="none"/>
<path d="M250.7 152.9L242.9 288.8" stroke="url(#g1)" stroke-width="1.0" fill="none"/>
<path d="M252.2 155.8L244.5 291.7" stroke="url(#g1)" stroke-width="1.0" fill="none"/>
<path d="M266.1 152.5L267.6 155.5L259.9 291.6L258.4 288.6Z" fill="#fff"/>
<path d="M266.1 152.5L267.6 155.5L259.9 291.6L258.4 288.6Z" fill="url(#f1)"/>
<path d="M266.1 152.5L267.6 155.5" stroke="#800000" stroke-width="1.0" fill="none"/>
<path d="M258.4 288.6L259.9 291.6" stroke="#00008f" stroke-width="1.0" fill="none"/>
<path d="M266.1 152.5L258.4 288.6" stroke="url(#g1)" stroke-width="1.0" fill="none"/>
<path d="M267.6 155.5L259.9 291.6" stroke="url(#g1)" stroke-width="1.0" fill="none"/>
<path d="M252.2 155.8L253.7 158.7L246 294.7L244.5 291.7Z" fill="#fff"/>
<path d="M252.2 155.8L253.7 158.7L246 294.7L244.5 291.7Z" fill="url(#f1)"/>
<path d="M252.2 155.8L253.7 158.7" stroke="#800000" stroke-width="1.0" fill="none"/>
<path d="M244.5 291.7L246 294.7" stroke="#00008f" stroke-width="1.0" fill="none"/>
<path d="M252.2 155.8L244.5 291.7" stroke="url(#g1)" stroke-width="1.0" fill="none"/>
<path d="M253.7 158.7L246 294.7" stroke="url(#g1)" stroke-width="1.0" fill="none"/>
<path d="M267.6 155.5L269.2 158.4L261.4 294.5L259.9 291.6Z" fill="#fff"/>
<path d="M267.6 155.5L269.2 158.4L261.4 294.5L259.9 291.6Z" fill="url(#f1)"/>
<path d="M267.6 155.5L269.2 158.4" stroke="#800000" stroke-width="1.0" fill="none"/>
<path d="M259.9 291.6L261.4 294.5" stroke="#00008f" stroke-width="1.0" fill="none"/>
<path d="M267.6 155.5L259.9 291.6" stroke="url(#g1)" stroke-width="1.0" fill="none"/>
<path d="M269.2 158.4L261.4 294.5" stroke="url(#g1)" stroke-width="1.0" fill="none"/>
<path d="M253.7 158.7L255.3 161.6L247.6 297.6L246 294.7Z" fill="#fff"/>
<path d="M253.7 158.7L255.3 161.6L247.6 297.6L246 294.7Z" fill="url(#f1)"/>
<path d="M253.7 158.7L255.3 161.6" stroke="#800000" stroke-width="1.0" fill="none"/>
<path d="M246 294.7L247.6 297.6" stroke="#00008f" stroke-width="1.0" fill="none"/>
<path d="M253.7 158.7L246 294.7" stroke="url(#g1)" stroke-width="1.0" fill="none"/>
<path d="M255.3 161.6L247.6 297.6" stroke="url(#g1)" stroke-width="1.0" fill="none"/>
<path d="M269.2 158.4L270.7 161.3L263 297.4L261.4 294.5Z" fill="#fff"/>
<path d="M269.2 158.4L270.7 161.3L263 297.4L261.4 294.5Z" fill="url(#f1)"/>
<path d="M269.2 158.4L270.7 161.3" stroke="#800000" stroke-width="1.0" fill="none"/>
<path d="M261.4 294.5L263 297.4" stroke="#00008f" stroke-width="1.0" fill="none"/>
<path d="M269.2 158.4L261.4 294.5" stroke="url(#g1)" stroke-width="1.0" fill="none"/>
<path d="M270.7 161.3L263 297.4" stroke="url(#g1)" stroke-width="1.0" fill="none"/>
<path d="M255.3 161.6L256.8 164.5L249.1 300.6L247.6 297.6Z" fill="#fff"/>
<path d="M255.3 161.6L256.8 164.5L249.1 300.6L247.6 297.6Z" fill="url(#f1)"/>
<path d="M255.3 161.6L256.8 164.5" stroke="#800000" stroke-width="1.0" fill="none"/>
<path d="M247.6 297.6L249.1 300.6" stroke="#00008f" stroke-width="1.0" fill="none"/>
<path d="M255.3 161.6L247.6 297.6" stroke="url(#g1)" stroke-width="1.0" fill="none"/>
<path d="M256.8 164.5L249.1 300.6" stroke="url(#g1)" stroke-width="1.0" fill="none"/>
<path d="M270.7 161.3L272.2 164.2L264.5 300.4L263 297.4Z" fill="#fff"/>
<path d="M270.7 161.3L272.2 164.2L264.5 300.4L263 297.4Z" fill="url(#f1)"/>
<path d="M270.7 161.3L272.2 164.2" stroke="#800000" stroke-width="1.0" fill="none"/>
<path d="M263 297.4L264.5 300.4" stroke="#00008f" stroke-width="1.0" fill="none"/>
<path d="M270.7 161.3L263 297.4" stroke="url(#g1)" stroke-width="1.0" fill="none"/>
<path d="M272.2 164.2L264.5 300.4" stroke="url(#g1)" stroke-width="1.0" fill="none"/>
<path d="M226 165.1L227.5 289L219.8 303.9L218.2 180Z" fill="#fff"/>
<path d="M226 165.1L227.5 289" stroke="#800000" stroke-width="1.0" fill="none"/>
<path d="M218.2 180L219.8 303.9" stroke="#800000" stroke-width="1.0" fill="none"/>
<path d="M226 165.1L218.2 180" stroke="#800000" stroke-width="1.0" fill="none"/>
<path d="M227.5 289L219.8 303.9" stroke="#00008f" stroke-width="1.0" fill="none"/>
<path d="M272.2 164.2L273.8 167.1L266.1 303.3L264.5 300.4Z" fill="#fff"/>
<path d="M272.2 164.2L273.8 167.1L266.1 303.3L264.5 300.4Z" fill="url(#f1)"/>
<path d="M272.2 164.2L273.8 167.1" stroke="#800000" stroke-width="1.0" fill="none"/>
<path d="M264.5 300.4L266.1 303.3" stroke="#00008f" stroke-width="1.0" fill="none"/>
<path d="M272.2 164.2L264.5 300.4" stroke="url(#g1)" stroke-width="1.0" fill="none"/>
<path d="M273.8 167.1L266.1 303.3" stroke="url(#g1)" stroke-width="1.0" fill="none"/>
<path d="M243 138.3L244.5 141.2L236.8 277L235.2 153.2Z" fill="#fff"/>
<path d="M243 138.3L244.5 141.2" stroke="#800000" stroke-width="1.0" fill="none"/>
<path d="M235.2 153.2L236.8 277" stroke="#800000" stroke-width="1.0" fill="none"/>
<path d="M243 138.3L235.2 153.2" stroke="#800000" stroke-width="1.0" fill="none"/>
<path d="M244.5 141.2L236.8 277" stroke="url(#g1)" stroke-width="1.0" fill="none"/>
<path d="M273.8 167.1L275.3 170L267.6 306.3L266.1 303.3Z" fill="#fff"/>
<path d="M273.8 167.1L275.3 170L267.6 306.3L266.1 303.3Z" fill="url(#f1)"/>
<path d="M273.8 167.1L275.3 170" stroke="#800000" stroke-width="1.0" fill="none"/>
<path d="M266.1 303.3L267.6 306.3" stroke="#00008f" stroke-width="1.0" fill="none"/>
<path d="M273.8 167.1L266.1 303.3" stroke="url(#g1)" stroke-width="1.0" fill="none"/>
<path d="M275.3 170L267.6 306.3" stroke="url(#g1)" stroke-width="1.0" fill="none"/>
<path d="M275.3 170L276.9 173L269.1 309.2L267.6 306.3Z" fill="#fff"/>
<path d="M275.3 170L276.9 173L269.1 309.2L267.6 306.3Z" fill="url(#f1)"/>
<path d="M275.3 170L276.9 173" stroke="#800000" stroke-width="1.0" fill="none"/>
<path d="M267.6 306.3L269.1 309.2" stroke="#00008f" stroke-width="1.0" fill="none"/>
<path d="M275.3 170L267.6 306.3" stroke="url(#g1)" stroke-width="1.0" fill="none"/>
<path d="M276.9 173L269.1 309.2" stroke="url(#g1)" stroke-width="1.0" fill="none"/>
<path d="M276.9 173L278.4 175.9L270.7 312.1L269.1 309.2Z" fill="#fff"/>
<path d="M276.9 173L278.4 175.9L270.7 312.1L269.1 309.2Z" fill="url(#f1)"/>
<path d="M276.9 173L278.4 175.9" stroke="#800000" stroke-width="1.0" fill="none"/>
<path d="M269.1 309.2L270.7 312.1" stroke="#00008f" stroke-width="1.0" fill="none"/>
<path d="M276.9 173L269.1 309.2" stroke="url(#g1)" stroke-width="1.0" fill="none"/>
<path d="M278.4 175.9L270.7 312.1" stroke="url(#g1)" stroke-width="1.0" fill="none"/>
<path d="M278.4 175.9L279.9 178.8L272.2 315.1L270.7 312.1Z" fill="#fff"/>
<path d="M278.4 175.9L279.9 178.8L272.2 315.1L270.7 312.1Z" fill="url(#f1)"/>
<path d="M278.4 175.9L279.9 178.8" stroke="#800000" stroke-width="1.0" fill="none"/>
<path d="M270.7 312.1L272.2 315.1" stroke="#00008f" stroke-width="1.0" fill="none"/>
<path d="M278.4 175.9L270.7 312.1" stroke="url(#g1)" stroke-width="1.0" fill="none"/>
<path d="M279.9 178.8L272.2 315.1" stroke="url(#g1)" stroke-width="1.0" fill="none"/>
<path d="M233.7 150.2L235.2 153.2L227.5 289L226 165.1Z" fill="#fff"/>
<path d="M233.7 150.2L235.2 153.2" stroke="#800000" stroke-width="1.0" fill="none"/>
<path d="M226 165.1L227.5 289" stroke="#800000" stroke-width="1.0" fill="none"/>
<path d="M233.7 150.2L226 165.1" stroke="#800000" stroke-width="1.0" fill="none"/>
<path d="M235.2 153.2L227.5 289" stroke="url(#g1)" stroke-width="1.0" fill="none"/>
<path d="M264.5 149.6L266.1 152.5L258.4 288.6L256.8 164.5Z" fill="#fff"/>
<path d="M264.5 149.6L266.1 152.5" stroke="#800000" stroke-width="1.0" fill="none"/>
<path d="M256.8 164.5L258.4 288.6" stroke="#800000" stroke-width="1.0" fill="none"/>
<path d="M264.5 149.6L256.8 164.5" stroke="#800000" stroke-width="1.0" fill="none"/>
<path d="M266.1 152.5L258.4 288.6" stroke="url(#g1)" stroke-width="1.0" fill="none"/>
<path d="M279.9 178.8L281.5 181.7L273.8 318L272.2 315.1Z" fill="#fff"/>
<path d="M279.9 178.8L281.5 181.7L273.8 318L272.2 315.1Z" fill="url(#f1)"/>
<path d="M279.9 178.8L281.5 181.7" stroke="#800000" stroke-width="1.0" fill="none"/>
<path d="M272.2 315.1L273.8 318" stroke="#00008f" stroke-width="1.0" fill="none"/>
<path d="M279.9 178.8L272.2 315.1" stroke="url(#g1)" stroke-width="1.0" fill="none"/>
<path d="M281.5 181.7L273.8 318" stroke="url(#g1)" stroke-width="1.0" fill="none"/>
<path d="M281.5 181.7L283 184.6L275.3 321L273.8 318Z" fill="#fff"/>
<path d="M281.5 181.7L283 184.6L275.3 321L273.8 318Z" fill="url(#f1)"/>
<path d="M281.5 181.7L283 184.6" stroke="#800000" stroke-width="1.0" fill="none"/>
<path d="M273.8 318L275.3 321" stroke="#00008f" stroke-width="1.0" fill="none"/>
<path d="M281.5 181.7L273.8 318" stroke="url(#g1)" stroke-width="1.0" fill="none"/>
<path d="M283 184.6L275.3 321" stroke="url(#g1)" stroke-width="1.0" fill="none"/>
<path d="M283 184.6L284.6 187.5L276.8 323.9L275.3 321Z" fill="#fff"/>
<path d="M283 184.6L284.6 187.5L276.8 323.9L275.3 321Z" fill="url(#f1)"/>
<path d="M283 184.6L284.6 187.5" stroke="#800000" stroke-width="1.0" fill="none"/>
<path d="M275.3 321L276.8 323.9" stroke="#00008f" stroke-width="1.0" fill="none"/>
<path d="M283 184.6L275.3 321" stroke="url(#g1)" stroke-width="1.0" fill="none"/>
<path d="M284.6 187.5L276.8 323.9" stroke="url(#g1)" stroke-width="1.0" fill="none"/>
<path d="M284.6 187.5L286.1 190.4L278.4 326.8L276.8 323.9Z" fill="#fff"/>
<path d="M284.6 187.5L286.1 190.4L278.4 326.8L276.8 323.9Z" fill="url(#f1)"/>
<path d="M284.6 187.5L286.1 190.4" stroke="#800000" stroke-width="1.0" fill="none"/>
<path d="M276.8 323.9L278.4 326.8" stroke="#00008f" stroke-width="1.0" fill="none"/>
<path d="M284.6 187.5L276.8 323.9" stroke="url(#g1)" stroke-width="1.0" fill="none"/>
<path d="M286.1 190.4L278.4 326.8" stroke="url(#g1)" stroke-width="1.0" fill="none"/>
<path d="M286.1 190.4L287.6 193.4L279.9 329.8L278.4 326.8Z" fill="#fff"/>
<path d="M286.1 190.4L287.6 193.4L279.9 329.8L278.4 326.8Z" fill="url(#f1)"/>
<path d="M286.1 190.4L287.6 193.4" stroke="#800000" stroke-width="1.0" fill="none"/>
<path d="M278.4 326.8L279.9 329.8" stroke="#00008f" stroke-width="1.0" fill="none"/>
<path d="M286.1 190.4L278.4 326.8" stroke="url(#g1)" stroke-width="1.0" fill="none"/>
<path d="M287.6 193.4L279.9 329.8" stroke="url(#g1)" stroke-width="1.0" fill="none"/>
<path d="M287.6 193.4L289.2 196.3L281.5 332.7L279.9 329.8Z" fill="#fff"/>
<path d="M287.6 193.4L289.2 196.3L281.5 332.7L279.9 329.8Z" fill="url(#f1)"/>
<path d="M287.6 193.4L289.2 196.3" stroke="#800000" stroke-width="1.0" fill="none"/>
<path d="M279.9 329.8L281.5 332.7" stroke="#00008f" stroke-width="1.0" fill="none"/>
<path d="M287.6 193.4L279.9 329.8" stroke="url(#g1)" stroke-width="1.0" fill="none"/>
<path d="M289.2 196.3L281.5 332.7" stroke="url(#g1)" stroke-width="1.0" fill="none"/>
<path d="M289.2 196.3L290.7 199.2L283 335.7L281.5 332.7Z" fill="#fff"/>
<path d="M289.2 196.3L290.7 199.2L283 335.7L281.5 332.7Z" fill="url(#f1)"/>
<path d="M289.2 196.3L290.7 199.2" stroke="#800000" stroke-width="1.0" fill="none"/>
<path d="M281.5 332.7L283 335.7" stroke="#00008f" stroke-width="1.0" fill="none"/>
<path d="M289.2 196.3L281.5 332.7" stroke="url(#g1)" stroke-width="1.0" fill="none"/>
<path d="M290.7 199.2L283 335.7" stroke="url(#g1)" stroke-width="1.0" fill="none"/>
<path d="M290.7 199.2L292.3 202.1L284.5 338.6L283 335.7Z" fill="#fff"/>
<path d="M290.7 199.2L292.3 202.1L284.5 338.6L283 335.7Z" fill="url(#f1)"/>
<path d="M290.7 199.2L292.3 202.1" stroke="#800000" stroke-width="1.0" fill="none"/>
<path d="M283 335.7L284.5 338.6" stroke="#00008f" stroke-width="1.0" fill="none"/>
<path d="M290.7 199.2L283 335.7" stroke="url(#g1)" stroke-width="1.0" fill="none"/>
<path d="M292.3 202.1L284.5 338.6" stroke="url(#g1)" stroke-width="1.0" fill="none"/>
<path d="M292.3 202.1L293.8 205L286.1 341.5L284.5 338.6Z" fill="#fff"/>
<path d="M292.3 202.1L293.8 205L286.1 341.5L284.5 338.6Z" fill="url(#f1)"/>
<path d="M292.3 202.1L293.8 205" stroke="#800000" stroke-width="1.0" fill="none"/>
<path d="M284.5 338.6L286.1 341.5" stroke="#00008f" stroke-width="1.0" fill="none"/>
<path d="M292.3 202.1L284.5 338.6" stroke="url(#g1)" stroke-width="1.0" fill="none"/>
<path d="M293.8 205L286.1 341.5" stroke="url(#g1)" stroke-width="1.0" fill="none"/>
<path d="M293.8 205L295.3 207.9L287.6 344.5L286.1 341.5Z" fill="#fff"/>
<path d="M293.8 205L295.3 207.9L287.6 344.5L286.1 341.5Z" fill="url(#f1)"/>
<path d="M293.8 205L295.3 207.9" stroke="#800000" stroke-width="1.0" fill="none"/>
<path d="M286.1 341.5L287.6 344.5" stroke="#00008f" stroke-width="1.0" fill="none"/>
<path d="M293.8 205L286.1 341.5" stroke="url(#g1)" stroke-width="1.0" fill="none"/>
<path d="M295.3 207.9L287.6 344.5" stroke="url(#g1)" stroke-width="1.0" fill="none"/>
<path d="M295.3 207.9L296.9 210.9L289.2 347.4L287.6 344.5Z" fill="#fff"/>
<path d="M295.3 207.9L296.9 210.9L289.2 347.4L287.6 344.5Z" fill="url(#f1)"/>
<path d="M295.3 207.9L296.9 210.9" stroke="#800000" stroke-width="1.0" fill="none"/>
<path d="M287.6 344.5L289.2 347.4" stroke="#00008f" stroke-width="1.0" fill="none"/>
<path d="M295.3 207.9L287.6 344.5" stroke="url(#g1)" stroke-width="1.0" fill="none"/>
<path d="M296.9 210.9L289.2 347.4" stroke="url(#g1)" stroke-width="1.0" fill="none"/>
<path d="M296.9 210.9L298.4 213.8L290.7 350.4L289.2 347.4Z" fill="#fff"/>
<path d="M296.9 210.9L298.4 213.8L290.7 350.4L289.2 347.4Z" fill="url(#f1)"/>
<path d="M296.9 210.9L298.4 213.8" stroke="#800000" stroke-width="1.0" fill="none"/>
<path d="M289.2 347.4L290.7 350.4" stroke="#00008f" stroke-width="1.0" fill="none"/>
<path d="M296.9 210.9L289.2 347.4" stroke="url(#g1)" stroke-width="1.0" fill="none"/>
<path d="M298.4 213.8L290.7 350.4" stroke="url(#g1)" stroke-width="1.0" fill="none"/>
<path d="M298.4 213.8L300 216.7L292.2 353.3L290.7 350.4Z" fill="#fff"/>
<path d="M298.4 213.8L300 216.7L292.2 353.3L290.7 350.4Z" fill="url(#f1)"/>
<path d="M298.4 213.8L300 216.7" stroke="#800000" stroke-width="1.0" fill="none"/>
<path d="M290.7 350.4L292.2 353.3" stroke="#00008f" stroke-width="1.0" fill="none"/>
<path d="M298.4 213.8L290.7 350.4" stroke="url(#g1)" stroke-width="1.0" fill="none"/>
<path d="M300 216.7L292.2 353.3" stroke="url(#g1)" stroke-width="1.0" fill="none"/>
<path d="M300 216.7L301.5 219.6L293.8 356.2L292.2 353.3Z" fill="#fff"/>
<path d="M300 216.7L301.5 219.6L293.8 356.2L292.2 353.3Z" fill="url(#f1)"/>
<path d="M300 216.7L301.5 219.6" stroke="#800000" stroke-width="1.0" fill="none"/>
<path d="M292.2 353.3L293.8 356.2" stroke="#00008f" stroke-width="1.0" fill="none"/>
<path d="M300 216.7L292.2 353.3" stroke="url(#g1)" stroke-width="1.0" fill="none"/>
<path d="M301.5 219.6L293.8 356.2" stroke="url(#g1)" stroke-width="1.0" fill="none"/>
<path d="M301.5 219.6L303 222.5L295.3 359.2L293.8 356.2Z" fill="#fff"/>
<path d="M301.5 219.6L303 222.5L295.3 359.2L293.8 356.2Z" fill="url(#f1)"/>
<path d="M301.5 219.6L303 222.5" stroke="#800000" stroke-width="1.0" fill="none"/>
<path d="M293.8 356.2L295.3 359.2" stroke="#00008f" stroke-width="1.0" fill="none"/>
<path d="M301.5 219.6L293.8 356.2" stroke="url(#g1)" stroke-width="1.0" fill="none"/>
<path d="M303 222.5L295.3 359.2" stroke="url(#g1)" stroke-width="1.0" fill="none"/>
<path d="M303 222.5L304.6 225.4L296.9 362.1L295.3 359.2Z" fill="#fff"/>
<path d="M303 222.5L304.6 225.4L296.9 362.1L295.3 359.2Z" fill="url(#f1)"/>
<path d="M303 222.5L304.6 225.4" stroke="#800000" stroke-width="1.0" fill="none"/>
<path d="M295.3 359.2L296.9 362.1" stroke="#00008f" stroke-width="1.0" fill="none"/>
<path d="M303 222.5L295.3 359.2" stroke="url(#g1)" stroke-width="1.0" fill="none"/>
<path d="M304.6 225.4L296.9 362.1" stroke="url(#g1)" stroke-width="1.0" fill="none"/>
<path d="M304.6 225.4L306.1 228.3L298.4 365.1L296.9 362.1Z" fill="#fff"/>
<path d="M304.6 225.4L306.1 228.3L298.4 365.1L296.9 362.1Z" fill="url(#f1)"/>
<path d="M304.6 225.4L306.1 228.3" stroke="#800000" stroke-width="1.0" fill="none"/>
<path d="M296.9 362.1L298.4 365.1" stroke="#00008f" stroke-width="1.0" fill="none"/>
<path d="M304.6 225.4L296.9 362.1" stroke="url(#g1)" stroke-width="1.0" fill="none"/>
<path d="M306.1 228.3L298.4 365.1" stroke="url(#g1)" stroke-width="1.0" fill="none"/>
<path d="M306.1 228.3L307.7 231.3L299.9 368L298.4 365.1Z" fill="#fff"/>
<path d="M306.1 228.3L307.7 231.3L299.9 368L298.4 365.1Z" fill="url(#f1)"/>
<path d="M306.1 228.3L307.7 231.3" stroke="#800000" stroke-width="1.0" fill="none"/>
<path d="M298.4 365.1L299.9 368" stroke="#00008f" stroke-width="1.0" fill="none"/>
<path d="M306.1 228.3L298.4 365.1" stroke="url(#g1)" stroke-width="1.0" fill="none"/>
<path d="M307.7 231.3L299.9 368" stroke="url(#g1)" stroke-width="1.0" fill="none"/>
<path d="M307.7 231.3L309.2 234.2L301.5 370.9L299.9 368Z" fill="#fff"/>
<path d="M307.7 231.3L309.2 234.2L301.5 370.9L299.9 368Z" fill="url(#f1)"/>
<path d="M307.7 231.3L309.2 234.2" stroke="#800000" stroke-width="1.0" fill="none"/>
<path d="M299.9 368L301.5 370.9" stroke="#00008f" stroke-width="1.0" fill="none"/>
<path d="M307.7 231.3L299.9 368" stroke="url(#g1)" stroke-width="1.0" fill="none"/>
<path d="M309.2 234.2L301.5 370.9" stroke="url(#g1)" stroke-width="1.0" fill="none"/>
<text x="213.1" y="293.4" text-anchor="end">0</text>
<text x="213.1" y="271.4" text-anchor="end">0.1</text>
<text x="213.1" y="246.8" text-anchor="end">0.2</text>
<text x="213.1" y="222.2" text-anchor="end">0.3</text>
<text x="213.1" y="197.7" text-anchor="end">0.4</text>
<text x="213.1" y="173.1" text-anchor="end">0.5</text>
<text x="213.1" y="148.5" text-anchor="end">0.6</text>
<text x="213.1" y="123.9" text-anchor="end">0.7</text>
<text x="210" y="313.9" text-anchor="middle">0</text>
<text x="225.3" y="343.9" text-anchor="middle">1</text>
<text x="240.6" y="373.8" text-anchor="middle">2</text>
<text x="255.8" y="403.8" text-anchor="middle">3</text>
<text x="271.1" y="433.7" text-anchor="middle">4</text>
<text x="351.2" y="314.7" text-anchor="middle">0.1</text>
<text x="335.8" y="344.5" text-anchor="middle">0.2</text>
<text x="320.3" y="374.3" text-anchor="middle">0.3</text>
<text x="304.9" y="404.1" text-anchor="middle">0.4</text>
<text x="289.4" y="433.8" text-anchor="middle">0.5</text>
<text x="239.9" y="429" text-anchor="middle">E</text>
<text x="334.5" y="419.9" text-anchor="middle">r</text>
<text x="188.7" y="211.6" text-anchor="middle" transform="rotate(-90 188.7 211.6)">N</text>
<path d="M404.3 298L466.1 178.9L527.7 296.5M404.3 273.4L466.1 154.3L527.7 271.9M404.3 248.9L466.1 129.8L527.7 247.4M404.3 224.3L466.1 105.2L527.7 222.8M404.3 199.7L466.1 80.6L527.7 198.2M404.3 175.1L466.1 56L527.7 173.6M404.3 150.6L466.1 31.5L527.7 149.1M404.3 126L466.1 6.9L527.7 124.5M466.1 178.9L466.1 6.9M450.6 208.7L450.6 36.7M435.2 238.4L435.2 66.4M419.8 268.2L419.8 96.2M481.5 208.3L481.5 36.3M496.9 237.7L496.9 65.7M512.3 267.1L512.3 95.1M527.7 296.5L527.7 124.5M419.7 327.4L481.5 208.3M435.1 356.8L496.9 237.7M450.5 386.2L512.3 267.1M450.6 208.7L512.2 326.3M435.2 238.4L496.8 356.1M419.8 268.2L481.4 385.8" fill="none" stroke="#8e8e8e" stroke-width="1.1" stroke-linecap="round" stroke-dasharray="0 5.2"/>
<path d="M404.3 126L404.3 298M404.3 298L465.9 415.6L527.7 296.5M404.3 298L402.4 294.5M404.3 273.4L402.4 269.9M404.3 248.9L402.4 245.3M404.3 224.3L402.4 220.7M404.3 199.7L402.4 196.2M404.3 175.1L402.4 171.6M404.3 150.6L402.4 147M404.3 126L402.4 122.5M404.3 298L402.5 301.6M419.7 327.4L417.9 331M435.1 356.8L433.3 360.4M450.5 386.2L448.7 389.8M465.9 415.6L464.1 419.2M527.7 296.5L529.6 300M512.2 326.3L514.1 329.8M496.8 356.1L498.7 359.6M481.4 385.8L483.2 389.4M465.9 415.6L467.8 419.1" fill="none" stroke="#000" stroke-width="1"/>
<path d="M466.1 178.9L527.7 296.5L520 311.4L458.4 193.8ZM458.4 193.8L520 311.4L512.2 326.3L450.6 208.7ZM450.6 208.7L512.2 326.3L504.5 341.2L442.9 223.6ZM442.9 223.6L504.5 341.2L496.8 356.1L435.2 238.4ZM435.2 238.4L452.1 270.8L444.4 285.7L427.5 253.3ZM427.5 253.3L430.6 259.2L422.8 274.1L419.8 268.2ZM419.8 268.2L421.3 271.2L413.6 286.1L412 283.1ZM412 283.1L413.6 286.1L405.8 300.9L404.3 298Z" fill="#fff" stroke="#fff" stroke-width="0.4"/>
<path d="M466.1 178.9L404.3 298M467.6 181.8L405.8 300.9M469.2 184.8L422.8 274.1M470.7 187.7L432.1 262.2M472.3 190.7L433.6 265.1M473.8 193.6L435.2 268M475.3 196.5L436.7 271M476.9 199.5L438.3 273.9M478.4 202.4L439.8 276.9M480 205.4L441.3 279.8M481.5 208.3L442.9 282.7M483 211.2L444.4 285.7M484.6 214.2L453.7 273.7M486.1 217.1L455.2 276.7M487.7 220.1L456.8 279.6M489.2 223L458.3 282.6M490.7 225.9L459.8 285.5M492.3 228.9L461.4 288.4M493.8 231.8L462.9 291.4M495.4 234.8L464.5 294.3M496.9 237.7L466 297.2M498.4 240.6L467.5 300.2M500 243.6L469.1 303.1M501.5 246.5L470.6 306.1M503.1 249.5L472.2 309M504.6 252.4L473.7 311.9M506.1 255.3L475.2 314.9M507.7 258.3L476.8 317.8M509.2 261.2L478.3 320.8M510.8 264.2L479.9 323.7M512.3 267.1L481.4 326.7M513.8 270L482.9 329.6M515.4 273L484.5 332.5M516.9 275.9L486 335.5M518.5 278.9L487.6 338.4M520 281.8L489.1 341.4M521.5 284.7L490.6 344.3M523.1 287.7L492.2 347.2M524.6 290.6L493.7 350.2M526.2 293.6L495.3 353.1M527.7 296.5L496.8 356.1" fill="none" stroke="#00008f" stroke-width="0.88"/>
<path d="M466.1 178.9L527.7 296.5M458.4 193.8L520 311.4M450.6 208.7L512.2 326.3M442.9 223.6L504.5 341.2M435.2 238.4L496.8 356.1M427.5 253.3L444.4 285.7M419.8 268.2L422.8 274.1M412 283.1L413.6 286.1M404.3 298L405.8 300.9" fill="none" stroke="#00008f" stroke-width="1.0"/>
<path d="M430.6 259.2L432.1 262.2L424.4 107.5L422.8 274.1Z" fill="#fff"/>
<path d="M430.6 259.2L432.1 262.2" stroke="#00008f" stroke-width="1.0" fill="none"/>
<path d="M422.8 274.1L424.4 107.5" stroke="#00008f" stroke-width="1.0" fill="none"/>
<path d="M430.6 259.2L422.8 274.1" stroke="#00008f" stroke-width="1.0" fill="none"/>
<path d="M424.4 107.5L432.1 262.2" stroke="url(#g2)" stroke-width="1.0" fill="none"/>
<path d="M452.1 270.8L453.7 273.7L446 119.1L444.4 285.7Z" fill="#fff"/>
<path d="M452.1 270.8L453.7 273.7" stroke="#00008f" stroke-width="1.0" fill="none"/>
<path d="M444.4 285.7L446 119.1" stroke="#00008f" stroke-width="1.0" fill="none"/>
<path d="M452.1 270.8L444.4 285.7" stroke="#00008f" stroke-width="1.0" fill="none"/>
<path d="M446 119.1L453.7 273.7" stroke="url(#g2)" stroke-width="1.0" fill="none"/>
<path d="M421.3 271.2L422.8 274.1L415.1 119.4L413.6 286.1Z" fill="#fff"/>
<path d="M421.3 271.2L422.8 274.1" stroke="#00008f" stroke-width="1.0" fill="none"/>
<path d="M413.6 286.1L415.1 119.4" stroke="#00008f" stroke-width="1.0" fill="none"/>
<path d="M421.3 271.2L413.6 286.1" stroke="#00008f" stroke-width="1.0" fill="none"/>
<path d="M415.1 119.4L422.8 274.1" stroke="url(#g2)" stroke-width="1.0" fill="none"/>
<path d="M432.1 262.2L433.6 265.1L425.9 110.4L424.4 107.5Z" fill="#fff"/>
<path d="M432.1 262.2L433.6 265.1L425.9 110.4L424.4 107.5Z" fill="url(#f2)"/>
<path d="M432.1 262.2L433.6 265.1" stroke="#00008f" stroke-width="1.0" fill="none"/>
<path d="M424.4 107.5L425.9 110.4" stroke="#800000" stroke-width="1.0" fill="none"/>
<path d="M424.4 107.5L432.1 262.2" stroke="url(#g2)" stroke-width="1.0" fill="none"/>
<path d="M425.9 110.4L433.6 265.1" stroke="url(#g2)" stroke-width="1.0" fill="none"/>
<path d="M433.6 265.1L435.2 268L427.4 113.4L425.9 110.4Z" fill="#fff"/>
<path d="M433.6 265.1L435.2 268L427.4 113.4L425.9 110.4Z" fill="url(#f2)"/>
<path d="M433.6 265.1L435.2 268" stroke="#00008f" stroke-width="1.0" fill="none"/>
<path d="M425.9 110.4L427.4 113.4" stroke="#800000" stroke-width="1.0" fill="none"/>
<path d="M425.9 110.4L433.6 265.1" stroke="url(#g2)" stroke-width="1.0" fill="none"/>
<path d="M427.4 113.4L435.2 268" stroke="url(#g2)" stroke-width="1.0" fill="none"/>
<path d="M435.2 268L436.7 271L429 116.3L427.4 113.4Z" fill="#fff"/>
<path d="M435.2 268L436.7 271L429 116.3L427.4 113.4Z" fill="url(#f2)"/>
<path d="M435.2 268L436.7 271" stroke="#00008f" stroke-width="1.0" fill="none"/>
<path d="M427.4 113.4L429 116.3" stroke="#800000" stroke-width="1.0" fill="none"/>
<path d="M427.4 113.4L435.2 268" stroke="url(#g2)" stroke-width="1.0" fill="none"/>
<path d="M429 116.3L436.7 271" stroke="url(#g2)" stroke-width="1.0" fill="none"/>
<path d="M436.7 271L438.3 273.9L430.5 119.3L429 116.3Z" fill="#fff"/>
<path d="M436.7 271L438.3 273.9L430.5 119.3L429 116.3Z" fill="url(#f2)"/>
<path d="M436.7 271L438.3 273.9" stroke="#00008f" stroke-width="1.0" fill="none"/>
<path d="M429 116.3L430.5 119.3" stroke="#800000" stroke-width="1.0" fill="none"/>
<path d="M429 116.3L436.7 271" stroke="url(#g2)" stroke-width="1.0" fill="none"/>
<path d="M430.5 119.3L438.3 273.9" stroke="url(#g2)" stroke-width="1.0" fill="none"/>
<path d="M453.7 273.7L455.2 276.7L447.5 122L446 119.1Z" fill="#fff"/>
<path d="M453.7 273.7L455.2 276.7L447.5 122L446 119.1Z" fill="url(#f2)"/>
<path d="M453.7 273.7L455.2 276.7" stroke="#00008f" stroke-width="1.0" fill="none"/>
<path d="M446 119.1L447.5 122" stroke="#800000" stroke-width="1.0" fill="none"/>
<path d="M446 119.1L453.7 273.7" stroke="url(#g2)" stroke-width="1.0" fill="none"/>
<path d="M447.5 122L455.2 276.7" stroke="url(#g2)" stroke-width="1.0" fill="none"/>
<path d="M438.3 273.9L439.8 276.9L432.1 122.2L430.5 119.3Z" fill="#fff"/>
<path d="M438.3 273.9L439.8 276.9L432.1 122.2L430.5 119.3Z" fill="url(#f2)"/>
<path d="M438.3 273.9L439.8 276.9" stroke="#00008f" stroke-width="1.0" fill="none"/>
<path d="M430.5 119.3L432.1 122.2" stroke="#800000" stroke-width="1.0" fill="none"/>
<path d="M430.5 119.3L438.3 273.9" stroke="url(#g2)" stroke-width="1.0" fill="none"/>
<path d="M432.1 122.2L439.8 276.9" stroke="url(#g2)" stroke-width="1.0" fill="none"/>
<path d="M455.2 276.7L456.8 279.6L449 125L447.5 122Z" fill="#fff"/>
<path d="M455.2 276.7L456.8 279.6L449 125L447.5 122Z" fill="url(#f2)"/>
<path d="M455.2 276.7L456.8 279.6" stroke="#00008f" stroke-width="1.0" fill="none"/>
<path d="M447.5 122L449 125" stroke="#800000" stroke-width="1.0" fill="none"/>
<path d="M447.5 122L455.2 276.7" stroke="url(#g2)" stroke-width="1.0" fill="none"/>
<path d="M449 125L456.8 279.6" stroke="url(#g2)" stroke-width="1.0" fill="none"/>
<path d="M439.8 276.9L441.3 279.8L433.6 125.1L432.1 122.2Z" fill="#fff"/>
<path d="M439.8 276.9L441.3 279.8L433.6 125.1L432.1 122.2Z" fill="url(#f2)"/>
<path d="M439.8 276.9L441.3 279.8" stroke="#00008f" stroke-width="1.0" fill="none"/>
<path d="M432.1 122.2L433.6 125.1" stroke="#800000" stroke-width="1.0" fill="none"/>
<path d="M432.1 122.2L439.8 276.9" stroke="url(#g2)" stroke-width="1.0" fill="none"/>
<path d="M433.6 125.1L441.3 279.8" stroke="url(#g2)" stroke-width="1.0" fill="none"/>
<path d="M456.8 279.6L458.3 282.6L450.6 127.9L449 125Z" fill="#fff"/>
<path d="M456.8 279.6L458.3 282.6L450.6 127.9L449 125Z" fill="url(#f2)"/>
<path d="M456.8 279.6L458.3 282.6" stroke="#00008f" stroke-width="1.0" fill="none"/>
<path d="M449 125L450.6 127.9" stroke="#800000" stroke-width="1.0" fill="none"/>
<path d="M449 125L456.8 279.6" stroke="url(#g2)" stroke-width="1.0" fill="none"/>
<path d="M450.6 127.9L458.3 282.6" stroke="url(#g2)" stroke-width="1.0" fill="none"/>
<path d="M441.3 279.8L442.9 282.7L435.1 128.1L433.6 125.1Z" fill="#fff"/>
<path d="M441.3 279.8L442.9 282.7L435.1 128.1L433.6 125.1Z" fill="url(#f2)"/>
<path d="M441.3 279.8L442.9 282.7" stroke="#00008f" stroke-width="1.0" fill="none"/>
<path d="M433.6 125.1L435.1 128.1" stroke="#800000" stroke-width="1.0" fill="none"/>
<path d="M433.6 125.1L441.3 279.8" stroke="url(#g2)" stroke-width="1.0" fill="none"/>
<path d="M435.1 128.1L442.9 282.7" stroke="url(#g2)" stroke-width="1.0" fill="none"/>
<path d="M458.3 282.6L459.8 285.5L452.1 130.8L450.6 127.9Z" fill="#fff"/>
<path d="M458.3 282.6L459.8 285.5L452.1 130.8L450.6 127.9Z" fill="url(#f2)"/>
<path d="M458.3 282.6L459.8 285.5" stroke="#00008f" stroke-width="1.0" fill="none"/>
<path d="M450.6 127.9L452.1 130.8" stroke="#800000" stroke-width="1.0" fill="none"/>
<path d="M450.6 127.9L458.3 282.6" stroke="url(#g2)" stroke-width="1.0" fill="none"/>
<path d="M452.1 130.8L459.8 285.5" stroke="url(#g2)" stroke-width="1.0" fill="none"/>
<path d="M442.9 282.7L444.4 285.7L436.7 131L435.1 128.1Z" fill="#fff"/>
<path d="M442.9 282.7L444.4 285.7L436.7 131L435.1 128.1Z" fill="url(#f2)"/>
<path d="M442.9 282.7L444.4 285.7" stroke="#00008f" stroke-width="1.0" fill="none"/>
<path d="M435.1 128.1L436.7 131" stroke="#800000" stroke-width="1.0" fill="none"/>
<path d="M435.1 128.1L442.9 282.7" stroke="url(#g2)" stroke-width="1.0" fill="none"/>
<path d="M436.7 131L444.4 285.7" stroke="url(#g2)" stroke-width="1.0" fill="none"/>
<path d="M459.8 285.5L461.4 288.4L453.7 133.8L452.1 130.8Z" fill="#fff"/>
<path d="M459.8 285.5L461.4 288.4L453.7 133.8L452.1 130.8Z" fill="url(#f2)"/>
<path d="M459.8 285.5L461.4 288.4" stroke="#00008f" stroke-width="1.0" fill="none"/>
<path d="M452.1 130.8L453.7 133.8" stroke="#800000" stroke-width="1.0" fill="none"/>
<path d="M452.1 130.8L459.8 285.5" stroke="url(#g2)" stroke-width="1.0" fill="none"/>
<path d="M453.7 133.8L461.4 288.4" stroke="url(#g2)" stroke-width="1.0" fill="none"/>
<path d="M413.6 286.1L415.1 119.4L407.4 134.3L405.8 300.9Z" fill="#fff"/>
<path d="M413.6 286.1L415.1 119.4" stroke="#00008f" stroke-width="1.0" fill="none"/>
<path d="M405.8 300.9L407.4 134.3" stroke="#00008f" stroke-width="1.0" fill="none"/>
<path d="M413.6 286.1L405.8 300.9" stroke="#00008f" stroke-width="1.0" fill="none"/>
<path d="M415.1 119.4L407.4 134.3" stroke="#800000" stroke-width="1.0" fill="none"/>
<path d="M461.4 288.4L462.9 291.4L455.2 136.7L453.7 133.8Z" fill="#fff"/>
<path d="M461.4 288.4L462.9 291.4L455.2 136.7L453.7 133.8Z" fill="url(#f2)"/>
<path d="M461.4 288.4L462.9 291.4" stroke="#00008f" stroke-width="1.0" fill="none"/>
<path d="M453.7 133.8L455.2 136.7" stroke="#800000" stroke-width="1.0" fill="none"/>
<path d="M453.7 133.8L461.4 288.4" stroke="url(#g2)" stroke-width="1.0" fill="none"/>
<path d="M455.2 136.7L462.9 291.4" stroke="url(#g2)" stroke-width="1.0" fill="none"/>
<path d="M462.9 291.4L464.5 294.3L456.7 139.7L455.2 136.7Z" fill="#fff"/>
<path d="M462.9 291.4L464.5 294.3L456.7 139.7L455.2 136.7Z" fill="url(#f2)"/>
<path d="M462.9 291.4L464.5 294.3" stroke="#00008f" stroke-width="1.0" fill="none"/>
<path d="M455.2 136.7L456.7 139.7" stroke="#800000" stroke-width="1.0" fill="none"/>
<path d="M455.2 136.7L462.9 291.4" stroke="url(#g2)" stroke-width="1.0" fill="none"/>
<path d="M456.7 139.7L464.5 294.3" stroke="url(#g2)" stroke-width="1.0" fill="none"/>
<path d="M464.5 294.3L466 297.2L458.3 142.6L456.7 139.7Z" fill="#fff"/>
<path d="M464.5 294.3L466 297.2L458.3 142.6L456.7 139.7Z" fill="url(#f2)"/>
<path d="M464.5 294.3L466 297.2" stroke="#00008f" stroke-width="1.0" fill="none"/>
<path d="M456.7 139.7L458.3 142.6" stroke="#800000" stroke-width="1.0" fill="none"/>
<path d="M456.7 139.7L464.5 294.3" stroke="url(#g2)" stroke-width="1.0" fill="none"/>
<path d="M458.3 142.6L466 297.2" stroke="url(#g2)" stroke-width="1.0" fill="none"/>
<path d="M466 297.2L467.5 300.2L459.8 145.5L458.3 142.6Z" fill="#fff"/>
<path d="M466 297.2L467.5 300.2L459.8 145.5L458.3 142.6Z" fill="url(#f2)"/>
<path d="M466 297.2L467.5 300.2" stroke="#00008f" stroke-width="1.0" fill="none"/>
<path d="M458.3 142.6L459.8 145.5" stroke="#800000" stroke-width="1.0" fill="none"/>
<path d="M458.3 142.6L466 297.2" stroke="url(#g2)" stroke-width="1.0" fill="none"/>
<path d="M459.8 145.5L467.5 300.2" stroke="url(#g2)" stroke-width="1.0" fill="none"/>
<path d="M467.5 300.2L469.1 303.1L461.4 148.5L459.8 145.5Z" fill="#fff"/>
<path d="M467.5 300.2L469.1 303.1L461.4 148.5L459.8 145.5Z" fill="url(#f2)"/>
<path d="M467.5 300.2L469.1 303.1" stroke="#00008f" stroke-width="1.0" fill="none"/>
<path d="M459.8 145.5L461.4 148.5" stroke="#800000" stroke-width="1.0" fill="none"/>
<path d="M459.8 145.5L467.5 300.2" stroke="url(#g2)" stroke-width="1.0" fill="none"/>
<path d="M461.4 148.5L469.1 303.1" stroke="url(#g2)" stroke-width="1.0" fill="none"/>
<path d="M469.1 303.1L470.6 306.1L462.9 151.4L461.4 148.5Z" fill="#fff"/>
<path d="M469.1 303.1L470.6 306.1L462.9 151.4L461.4 148.5Z" fill="url(#f2)"/>
<path d="M469.1 303.1L470.6 306.1" stroke="#00008f" stroke-width="1.0" fill="none"/>
<path d="M461.4 148.5L462.9 151.4" stroke="#800000" stroke-width="1.0" fill="none"/>
<path d="M461.4 148.5L469.1 303.1" stroke="url(#g2)" stroke-width="1.0" fill="none"/>
<path d="M462.9 151.4L470.6 306.1" stroke="url(#g2)" stroke-width="1.0" fill="none"/>
<path d="M470.6 306.1L472.2 309L464.4 154.4L462.9 151.4Z" fill="#fff"/>
<path d="M470.6 306.1L472.2 309L464.4 154.4L462.9 151.4Z" fill="url(#f2)"/>
<path d="M470.6 306.1L472.2 309" stroke="#00008f" stroke-width="1.0" fill="none"/>
<path d="M462.9 151.4L464.4 154.4" stroke="#800000" stroke-width="1.0" fill="none"/>
<path d="M462.9 151.4L470.6 306.1" stroke="url(#g2)" stroke-width="1.0" fill="none"/>
<path d="M464.4 154.4L472.2 309" stroke="url(#g2)" stroke-width="1.0" fill="none"/>
<path d="M472.2 309L473.7 311.9L466 157.3L464.4 154.4Z" fill="#fff"/>
<path d="M472.2 309L473.7 311.9L466 157.3L464.4 154.4Z" fill="url(#f2)"/>
<path d="M472.2 309L473.7 311.9" stroke="#00008f" stroke-width="1.0" fill="none"/>
<path d="M464.4 154.4L466 157.3" stroke="#800000" stroke-width="1.0" fill="none"/>
<path d="M464.4 154.4L472.2 309" stroke="url(#g2)" stroke-width="1.0" fill="none"/>
<path d="M466 157.3L473.7 311.9" stroke="url(#g2)" stroke-width="1.0" fill="none"/>
<path d="M473.7 311.9L475.2 314.9L467.5 160.2L466 157.3Z" fill="#fff"/>
<path d="M473.7 311.9L475.2 314.9L467.5 160.2L466 157.3Z" fill="url(#f2)"/>
<path d="M473.7 311.9L475.2 314.9" stroke="#00008f" stroke-width="1.0" fill="none"/>
<path d="M466 157.3L467.5 160.2" stroke="#800000" stroke-width="1.0" fill="none"/>
<path d="M466 157.3L473.7 311.9" stroke="url(#g2)" stroke-width="1.0" fill="none"/>
<path d="M467.5 160.2L475.2 314.9" stroke="url(#g2)" stroke-width="1.0" fill="none"/>
<path d="M422.8 274.1L424.4 107.5L416.6 122.4L415.1 119.4Z" fill="#fff"/>
<path d="M422.8 274.1L424.4 107.5" stroke="#00008f" stroke-width="1.0" fill="none"/>
<path d="M415.1 119.4L416.6 122.4" stroke="#800000" stroke-width="1.0" fill="none"/>
<path d="M415.1 119.4L422.8 274.1" stroke="url(#g2)" stroke-width="1.0" fill="none"/>
<path d="M424.4 107.5L416.6 122.4" stroke="#800000" stroke-width="1.0" fill="none"/>
<path d="M475.2 314.9L476.8 317.8L469.1 163.2L467.5 160.2Z" fill="#fff"/>
<path d="M475.2 314.9L476.8 317.8L469.1 163.2L467.5 160.2Z" fill="url(#f2)"/>
<path d="M475.2 314.9L476.8 317.8" stroke="#00008f" stroke-width="1.0" fill="none"/>
<path d="M467.5 160.2L469.1 163.2" stroke="#800000" stroke-width="1.0" fill="none"/>
<path d="M467.5 160.2L475.2 314.9" stroke="url(#g2)" stroke-width="1.0" fill="none"/>
<path d="M469.1 163.2L476.8 317.8" stroke="url(#g2)" stroke-width="1.0" fill="none"/>
<path d="M476.8 317.8L478.3 320.8L470.6 166.1L469.1 163.2Z" fill="#fff"/>
<path d="M476.8 317.8L478.3 320.8L470.6 166.1L469.1 163.2Z" fill="url(#f2)"/>
<path d="M476.8 317.8L478.3 320.8" stroke="#00008f" stroke-width="1.0" fill="none"/>
<path d="M469.1 163.2L470.6 166.1" stroke="#800000" stroke-width="1.0" fill="none"/>
<path d="M469.1 163.2L476.8 317.8" stroke="url(#g2)" stroke-width="1.0" fill="none"/>
<path d="M470.6 166.1L478.3 320.8" stroke="url(#g2)" stroke-width="1.0" fill="none"/>
<path d="M478.3 320.8L479.9 323.7L472.1 169.1L470.6 166.1Z" fill="#fff"/>
<path d="M478.3 320.8L479.9 323.7L472.1 169.1L470.6 166.1Z" fill="url(#f2)"/>
<path d="M478.3 320.8L479.9 323.7" stroke="#00008f" stroke-width="1.0" fill="none"/>
<path d="M470.6 166.1L472.1 169.1" stroke="#800000" stroke-width="1.0" fill="none"/>
<path d="M470.6 166.1L478.3 320.8" stroke="url(#g2)" stroke-width="1.0" fill="none"/>
<path d="M472.1 169.1L479.9 323.7" stroke="url(#g2)" stroke-width="1.0" fill="none"/>
<path d="M479.9 323.7L481.4 326.7L473.7 172L472.1 169.1Z" fill="#fff"/>
<path d="M479.9 323.7L481.4 326.7L473.7 172L472.1 169.1Z" fill="url(#f2)"/>
<path d="M479.9 323.7L481.4 326.7" stroke="#00008f" stroke-width="1.0" fill="none"/>
<path d="M472.1 169.1L473.7 172" stroke="#800000" stroke-width="1.0" fill="none"/>
<path d="M472.1 169.1L479.9 323.7" stroke="url(#g2)" stroke-width="1.0" fill="none"/>
<path d="M473.7 172L481.4 326.7" stroke="url(#g2)" stroke-width="1.0" fill="none"/>
<path d="M444.4 285.7L446 119.1L438.2 134L436.7 131Z" fill="#fff"/>
<path d="M444.4 285.7L446 119.1" stroke="#00008f" stroke-width="1.0" fill="none"/>
<path d="M436.7 131L438.2 134" stroke="#800000" stroke-width="1.0" fill="none"/>
<path d="M436.7 131L444.4 285.7" stroke="url(#g2)" stroke-width="1.0" fill="none"/>
<path d="M446 119.1L438.2 134" stroke="#800000" stroke-width="1.0" fill="none"/>
<path d="M481.4 326.7L482.9 329.6L475.2 174.9L473.7 172Z" fill="#fff"/>
<path d="M481.4 326.7L482.9 329.6L475.2 174.9L473.7 172Z" fill="url(#f2)"/>
<path d="M481.4 326.7L482.9 329.6" stroke="#00008f" stroke-width="1.0" fill="none"/>
<path d="M473.7 172L475.2 174.9" stroke="#800000" stroke-width="1.0" fill="none"/>
<path d="M473.7 172L481.4 326.7" stroke="url(#g2)" stroke-width="1.0" fill="none"/>
<path d="M475.2 174.9L482.9 329.6" stroke="url(#g2)" stroke-width="1.0" fill="none"/>
<path d="M482.9 329.6L484.5 332.5L476.8 177.9L475.2 174.9Z" fill="#fff"/>
<path d="M482.9 329.6L484.5 332.5L476.8 177.9L475.2 174.9Z" fill="url(#f2)"/>
<path d="M482.9 329.6L484.5 332.5" stroke="#00008f" stroke-width="1.0" fill="none"/>
<path d="M475.2 174.9L476.8 177.9" stroke="#800000" stroke-width="1.0" fill="none"/>
<path d="M475.2 174.9L482.9 329.6" stroke="url(#g2)" stroke-width="1.0" fill="none"/>
<path d="M476.8 177.9L484.5 332.5" stroke="url(#g2)" stroke-width="1.0" fill="none"/>
<path d="M484.5 332.5L486 335.5L478.3 180.8L476.8 177.9Z" fill="#fff"/>
<path d="M484.5 332.5L486 335.5L478.3 180.8L476.8 177.9Z" fill="url(#f2)"/>
<path d="M484.5 332.5L486 335.5" stroke="#00008f" stroke-width="1.0" fill="none"/>
<path d="M476.8 177.9L478.3 180.8" stroke="#800000" stroke-width="1.0" fill="none"/>
<path d="M476.8 177.9L484.5 332.5" stroke="url(#g2)" stroke-width="1.0" fill="none"/>
<path d="M478.3 180.8L486 335.5" stroke="url(#g2)" stroke-width="1.0" fill="none"/>
<path d="M486 335.5L487.6 338.4L479.8 183.8L478.3 180.8Z" fill="#fff"/>
<path d="M486 335.5L487.6 338.4L479.8 183.8L478.3 180.8Z" fill="url(#f2)"/>
<path d="M486 335.5L487.6 338.4" stroke="#00008f" stroke-width="1.0" fill="none"/>
<path d="M478.3 180.8L479.8 183.8" stroke="#800000" stroke-width="1.0" fill="none"/>
<path d="M478.3 180.8L486 335.5" stroke="url(#g2)" stroke-width="1.0" fill="none"/>
<path d="M479.8 183.8L487.6 338.4" stroke="url(#g2)" stroke-width="1.0" fill="none"/>
<path d="M487.6 338.4L489.1 341.4L481.4 186.7L479.8 183.8Z" fill="#fff"/>
<path d="M487.6 338.4L489.1 341.4L481.4 186.7L479.8 183.8Z" fill="url(#f2)"/>
<path d="M487.6 338.4L489.1 341.4" stroke="#00008f" stroke-width="1.0" fill="none"/>
<path d="M479.8 183.8L481.4 186.7" stroke="#800000" stroke-width="1.0" fill="none"/>
<path d="M479.8 183.8L487.6 338.4" stroke="url(#g2)" stroke-width="1.0" fill="none"/>
<path d="M481.4 186.7L489.1 341.4" stroke="url(#g2)" stroke-width="1.0" fill="none"/>
<path d="M489.1 341.4L490.6 344.3L482.9 189.6L481.4 186.7Z" fill="#fff"/>
<path d="M489.1 341.4L490.6 344.3L482.9 189.6L481.4 186.7Z" fill="url(#f2)"/>
<path d="M489.1 341.4L490.6 344.3" stroke="#00008f" stroke-width="1.0" fill="none"/>
<path d="M481.4 186.7L482.9 189.6" stroke="#800000" stroke-width="1.0" fill="none"/>
<path d="M481.4 186.7L489.1 341.4" stroke="url(#g2)" stroke-width="1.0" fill="none"/>
<path d="M482.9 189.6L490.6 344.3" stroke="url(#g2)" stroke-width="1.0" fill="none"/>
<path d="M490.6 344.3L492.2 347.2L484.5 192.6L482.9 189.6Z" fill="#fff"/>
<path d="M490.6 344.3L492.2 347.2L484.5 192.6L482.9 189.6Z" fill="url(#f2)"/>
<path d="M490.6 344.3L492.2 347.2" stroke="#00008f" stroke-width="1.0" fill="none"/>
<path d="M482.9 189.6L484.5 192.6" stroke="#800000" stroke-width="1.0" fill="none"/>
<path d="M482.9 189.6L490.6 344.3" stroke="url(#g2)" stroke-width="1.0" fill="none"/>
<path d="M484.5 192.6L492.2 347.2" stroke="url(#g2)" stroke-width="1.0" fill="none"/>
<path d="M492.2 347.2L493.7 350.2L486 195.5L484.5 192.6Z" fill="#fff"/>
<path d="M492.2 347.2L493.7 350.2L486 195.5L484.5 192.6Z" fill="url(#f2)"/>
<path d="M492.2 347.2L493.7 350.2" stroke="#00008f" stroke-width="1.0" fill="none"/>
<path d="M484.5 192.6L486 195.5" stroke="#800000" stroke-width="1.0" fill="none"/>
<path d="M484.5 192.6L492.2 347.2" stroke="url(#g2)" stroke-width="1.0" fill="none"/>
<path d="M486 195.5L493.7 350.2" stroke="url(#g2)" stroke-width="1.0" fill="none"/>
<path d="M493.7 350.2L495.3 353.1L487.5 198.5L486 195.5Z" fill="#fff"/>
<path d="M493.7 350.2L495.3 353.1L487.5 198.5L486 195.5Z" fill="url(#f2)"/>
<path d="M493.7 350.2L495.3 353.1" stroke="#00008f" stroke-width="1.0" fill="none"/>
<path d="M486 195.5L487.5 198.5" stroke="#800000" stroke-width="1.0" fill="none"/>
<path d="M486 195.5L493.7 350.2" stroke="url(#g2)" stroke-width="1.0" fill="none"/>
<path d="M487.5 198.5L495.3 353.1" stroke="url(#g2)" stroke-width="1.0" fill="none"/>
<path d="M495.3 353.1L496.8 356.1L489.1 201.4L487.5 198.5Z" fill="#fff"/>
<path d="M495.3 353.1L496.8 356.1L489.1 201.4L487.5 198.5Z" fill="url(#f2)"/>
<path d="M495.3 353.1L496.8 356.1" stroke="#00008f" stroke-width="1.0" fill="none"/>
<path d="M487.5 198.5L489.1 201.4" stroke="#800000" stroke-width="1.0" fill="none"/>
<path d="M487.5 198.5L495.3 353.1" stroke="url(#g2)" stroke-width="1.0" fill="none"/>
<path d="M489.1 201.4L496.8 356.1" stroke="url(#g2)" stroke-width="1.0" fill="none"/>
<path d="M446 119.1L489.1 201.4L481.4 216.3L438.2 134ZM424.4 107.5L481.4 216.3L473.6 231.2L416.6 122.4ZM415.1 119.4L473.6 231.2L465.9 246.1L407.4 134.3Z" fill="#fff" stroke="#fff" stroke-width="0.4"/>
<clipPath id="cp2"><path d="M446 119.1L489.1 201.4L481.4 216.3L438.2 134ZM424.4 107.5L481.4 216.3L473.6 231.2L416.6 122.4ZM415.1 119.4L473.6 231.2L465.9 246.1L407.4 134.3Z"/></clipPath>
<path d="M466.1 9.4L404.3 128.5M467.3 11.7L405.5 130.8M468.6 14.1L406.8 133.2M469.8 16.4L408 135.5M471 18.8L409.2 137.9M472.3 21.1L410.5 140.2M473.5 23.5L411.7 142.6M474.7 25.8L412.9 144.9M476 28.2L414.2 147.3M477.2 30.5L415.4 149.6M478.4 32.9L416.6 152M479.7 35.2L417.9 154.3M480.9 37.6L419.1 156.7M482.1 39.9L420.3 159M483.3 42.3L421.5 161.4M484.6 44.6L422.8 163.7M485.8 47L424 166.1M487 49.3L425.2 168.4M488.3 51.7L426.5 170.8M489.5 54L427.7 173.1M490.7 56.4L428.9 175.5M492 58.7L430.2 177.8M493.2 61.1L431.4 180.2M494.4 63.5L432.6 182.6M495.7 65.8L433.9 184.9M496.9 68.2L435.1 187.3M498.1 70.5L436.3 189.6M499.4 72.9L437.6 192M500.6 75.2L438.8 194.3M501.8 77.6L440 196.7M503.1 79.9L441.3 199M504.3 82.3L442.5 201.4M505.5 84.6L443.7 203.7M506.8 87L445 206.1M508 89.3L446.2 208.4M509.2 91.7L447.4 210.8M510.5 94L448.7 213.1M511.7 96.4L449.9 215.5M512.9 98.7L451.1 217.8M514.1 101.1L452.3 220.2M515.4 103.4L453.6 222.5M516.6 105.8L454.8 224.9M517.8 108.1L456 227.2M519.1 110.5L457.3 229.6M520.3 112.8L458.5 231.9M521.5 115.2L459.7 234.3M522.8 117.5L461 236.6M524 119.9L462.2 239M525.2 122.3L463.4 241.4M526.5 124.6L464.7 243.7M527.7 127L465.9 246.1" fill="none" stroke="#800000" stroke-width="0.85" clip-path="url(#cp2)"/>
<path d="M415.1 119.4L407.4 134.3M424.4 107.5L416.6 122.4M446 119.1L438.2 134M489.1 201.4L465.9 246.1" fill="none" stroke="#800000" stroke-width="1.0"/>
<path d="M446 119.1L489.1 201.4M424.4 107.5L481.4 216.3M415.1 119.4L473.6 231.2M407.4 134.3L465.9 246.1" fill="none" stroke="#800000" stroke-width="1.0"/>
<text x="400.7" y="293.4" text-anchor="end">0</text>
<text x="400.7" y="271.4" text-anchor="end">0.05</text>
<text x="400.7" y="246.8" text-anchor="end">0.1</text>
<text x="400.7" y="222.2" text-anchor="end">0.15</text>
<text x="400.7" y="197.7" text-anchor="end">0.2</text>
<text x="400.7" y="173.1" text-anchor="end">0.25</text>
<text x="400.7" y="148.5" text-anchor="end">0.3</text>
<text x="400.7" y="123.9" text-anchor="end">0.35</text>
<text x="397.6" y="313.9" text-anchor="middle">0</text>
<text x="412.9" y="343.9" text-anchor="middle">1</text>
<text x="428.2" y="373.8" text-anchor="middle">2</text>
<text x="443.4" y="403.8" text-anchor="middle">3</text>
<text x="458.7" y="433.7" text-anchor="middle">4</text>
<text x="538.8" y="314.7" text-anchor="middle">0.1</text>
<text x="523.4" y="344.5" text-anchor="middle">0.2</text>
<text x="507.9" y="374.3" text-anchor="middle">0.3</text>
<text x="492.5" y="404.1" text-anchor="middle">0.4</text>
<text x="477" y="433.8" text-anchor="middle">0.5</text>
<text x="427.5" y="429" text-anchor="middle">E</text>
<text x="522.1" y="419.9" text-anchor="middle">r</text>
<text x="369.9" y="211.6" text-anchor="middle" transform="rotate(-90 369.9 211.6)">i</text>
</svg></body></html>
